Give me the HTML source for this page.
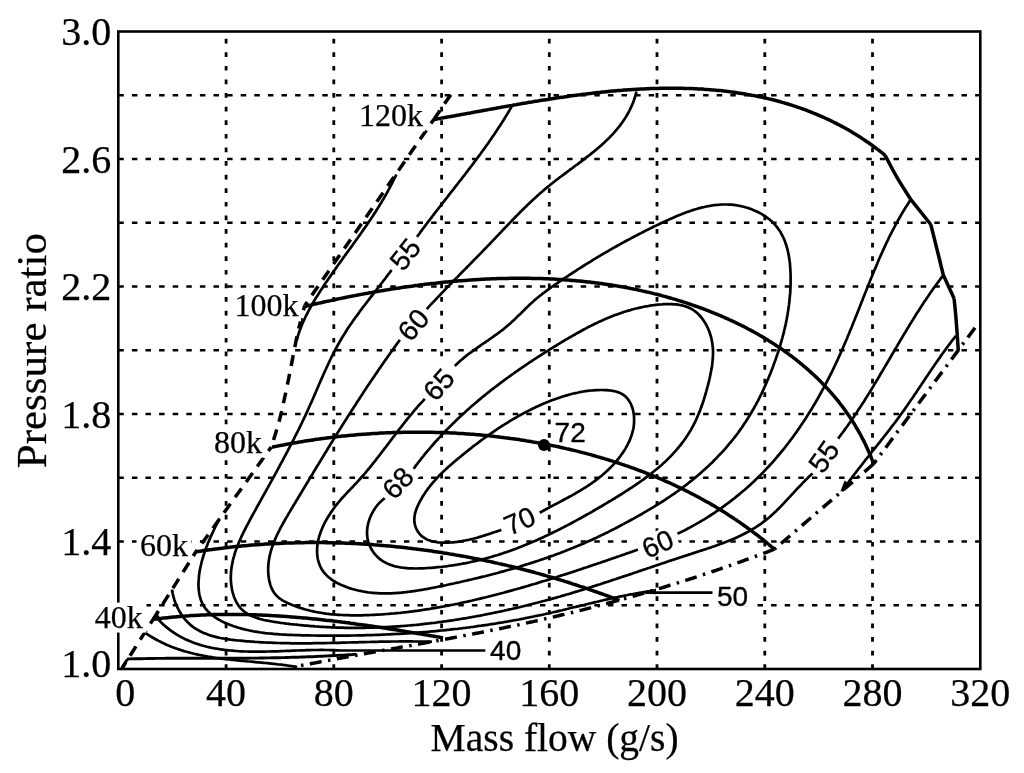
<!DOCTYPE html>
<html><head><meta charset="utf-8"><title>Compressor map</title>
<style>html,body{margin:0;padding:0;background:#fff}svg{display:block}</style></head>
<body>
<svg width="1024" height="773" viewBox="0 0 1024 773">
<rect width="1024" height="773" fill="#fff"/>
<path d="M226.1,669.0V31.5M333.8,669.0V31.5M441.6,669.0V31.5M549.3,669.0V31.5M657.0,669.0V31.5M764.8,669.0V31.5M872.5,669.0V31.5" stroke="#000" stroke-width="2.8" stroke-dasharray="4.7 8.9" fill="none"/>
<path d="M118.3,605.2H980.3M118.3,541.5H980.3M118.3,477.8H980.3M118.3,414.0H980.3M118.3,350.2H980.3M118.3,286.5H980.3M118.3,222.7H980.3M118.3,159.0H980.3M118.3,95.2H980.3" stroke="#000" stroke-width="2.6" stroke-dasharray="5.5 8.1" fill="none"/>
<path d="M158.8,620.0 160.3,621.5 161.8,623.0 163.3,624.4 164.8,625.8 166.4,627.1 168.0,628.4 169.5,629.6 171.2,630.8 172.8,632.0 174.5,633.1 176.1,634.1 177.8,635.2 179.5,636.1 181.2,637.1 183.0,638.0 184.7,638.9 186.5,639.7 188.3,640.5 190.1,641.3 191.9,642.0 193.7,642.7 195.6,643.4 197.4,644.0 199.3,644.6 201.2,645.2 203.1,645.7 205.0,646.2 206.9,646.7 208.8,647.1 210.7,647.6 212.7,648.0 214.6,648.4 216.6,648.7 218.6,649.0 220.5,649.3 222.5,649.6 224.5,649.9 226.5,650.1 228.5,650.3 230.5,650.5 232.6,650.7 234.6,650.9 236.6,651.0 238.6,651.2 240.7,651.3 242.7,651.4 244.8,651.5 246.8,651.5 248.9,651.6 250.9,651.6 253.0,651.6 255.0,651.7 257.1,651.7 259.2,651.7 261.2,651.6 263.3,651.6 265.4,651.6 267.5,651.5 269.5,651.5 271.6,651.4 273.7,651.4 275.7,651.3 277.8,651.3 279.9,651.2 282.0,651.1 284.0,651.0 286.1,650.9 288.2,650.9 290.2,650.8 292.3,650.7 294.3,650.6 296.4,650.5 298.4,650.5 300.5,650.4 302.5,650.3 304.5,650.3 306.6,650.2 308.6,650.1 310.6,650.1 312.6,650.0 314.6,650.0 316.6,650.0 318.6,650.0 320.6,649.9 322.6,649.9 324.6,650.0 326.5,650.0 328.5,650.0 330.4,650.1 332.3,650.1 334.3,650.2 336.2,650.3 338.1,650.4 340.0,650.5 L485.4,650.5" stroke="#000" stroke-width="2.7" fill="none" stroke-linejoin="round" />
<path d="M636.5,91.5 636.0,93.5 635.4,95.5 634.8,97.5 634.2,99.5 633.5,101.4 632.8,103.3 632.0,105.1 631.2,106.9 630.3,108.8 629.5,110.5 628.6,112.3 627.6,114.0 626.6,115.7 625.6,117.4 624.6,119.0 623.5,120.6 622.4,122.2 621.2,123.8 620.1,125.4 618.9,126.9 617.6,128.4 616.4,130.0 615.1,131.4 613.8,132.9 612.5,134.3 611.1,135.8 609.8,137.2 608.4,138.6 607.0,140.0 605.5,141.3 604.1,142.7 602.6,144.0 601.1,145.4 599.6,146.7 598.1,148.0 596.6,149.3 595.0,150.6 593.5,151.9 591.9,153.1 590.3,154.4 588.7,155.7 587.1,156.9 585.5,158.1 583.9,159.4 582.3,160.6 580.7,161.8 579.0,163.1 577.4,164.3 575.7,165.5 574.1,166.7 572.5,168.0 570.8,169.2 569.2,170.4 567.5,171.6 565.9,172.8 564.2,174.1 562.6,175.3 561.0,176.5 559.3,177.7 557.7,179.0 556.1,180.2 554.5,181.5 552.9,182.7 551.3,184.0 549.7,185.3 548.1,186.5 546.6,187.8 545.0,189.1 543.5,190.4 542.0,191.8 540.4,193.1 538.9,194.4 537.4,195.7 536.0,197.1 534.5,198.4 533.0,199.8 531.5,201.2 530.1,202.5 528.6,203.9 527.2,205.3 525.8,206.7 524.3,208.1 522.9,209.5 521.5,210.9 520.1,212.3 518.7,213.7 517.3,215.1 515.9,216.5 514.5,218.0 513.1,219.4 511.7,220.8 510.3,222.3 509.0,223.7 507.6,225.1 506.2,226.6 504.8,228.0 503.4,229.5 502.1,230.9 500.7,232.4 499.3,233.8 497.9,235.3 496.6,236.7 495.2,238.2 493.8,239.6 492.4,241.1 491.0,242.5 489.7,244.0 488.3,245.4 486.9,246.8 485.5,248.3 484.1,249.7 482.7,251.2 481.3,252.6 479.9,254.1 478.5,255.5 477.1,256.9 475.7,258.4 474.3,259.8 472.8,261.3 471.4,262.7 470.0,264.1 468.6,265.6 467.2,267.0 465.8,268.5 464.4,269.9 463.0,271.3 461.5,272.8 460.1,274.2 458.7,275.7 457.3,277.1 455.9,278.5 454.5,280.0 453.1,281.4 451.7,282.9 450.2,284.3 448.8,285.8 447.4,287.2 446.0,288.7 444.6,290.1 443.2,291.6 441.8,293.0 440.5,294.5 439.1,295.9 437.7,297.4 436.3,298.8 434.9,300.3 433.5,301.8 432.2,303.2 430.8,304.7 429.4,306.2 428.1,307.6 426.7,309.1" stroke="#000" stroke-width="2.7" fill="none" stroke-linejoin="round" />
<path d="M399.9,339.8 398.7,341.5 397.5,343.1 396.3,344.8 395.1,346.4 393.9,348.1 392.7,349.7 391.5,351.4 390.4,353.0 389.2,354.7 388.0,356.3 386.9,358.0 385.7,359.6 384.5,361.3 383.4,362.9 382.2,364.6 381.1,366.2 380.0,367.9 378.8,369.5 377.7,371.2 376.6,372.9 375.4,374.5 374.3,376.2 373.2,377.8 372.1,379.5 371.0,381.1 369.8,382.8 368.7,384.4 367.6,386.1 366.5,387.8 365.4,389.4 364.3,391.1 363.2,392.7 362.2,394.4 361.1,396.1 360.0,397.7 358.9,399.4 357.8,401.0 356.7,402.7 355.7,404.4 354.6,406.0 353.5,407.7 352.4,409.4 351.4,411.0 350.3,412.7 349.2,414.4 348.2,416.0 347.1,417.7 346.1,419.4 345.0,421.1 343.9,422.7 342.9,424.4 341.8,426.1 340.8,427.8 339.7,429.5 338.7,431.1 337.6,432.8 336.6,434.5 335.5,436.2 334.5,437.9 333.5,439.6 332.4,441.3 331.4,442.9 330.3,444.6 329.3,446.3 328.2,448.0 327.2,449.7 326.2,451.4 325.1,453.1 324.1,454.8 323.1,456.5 322.0,458.2 321.0,459.9 319.9,461.7 318.9,463.4 317.9,465.1 316.8,466.8 315.8,468.5 314.7,470.2 313.7,471.9 312.7,473.7 311.6,475.4 310.6,477.1 309.5,478.8 308.5,480.6 307.5,482.3 306.4,484.0 305.4,485.8 304.3,487.5 303.3,489.3 302.2,491.0 301.2,492.7 300.1,494.5 299.1,496.2 298.0,498.0 297.0,499.8 295.9,501.5 294.9,503.3 293.8,505.0 292.7,506.8 291.7,508.6 290.6,510.3 289.6,512.1 288.5,513.9 287.5,515.7 286.4,517.4 285.4,519.2 284.4,521.0 283.3,522.8 282.4,524.6 281.4,526.4 280.4,528.2 279.5,530.0 278.6,531.8 277.7,533.6 276.8,535.5 276.0,537.3 275.2,539.1 274.4,541.0 273.7,542.8 273.0,544.7 272.3,546.5 271.7,548.4 271.1,550.3 270.6,552.1 270.1,554.0 269.7,555.9 269.3,557.8 269.0,559.7 268.7,561.6 268.5,563.6 268.3,565.5 268.2,567.4 268.2,569.4 268.2,571.3 268.3,573.3 268.5,575.3 268.7,577.2 269.0,579.2 269.4,581.2 269.9,583.2 270.4,585.1 271.1,587.0 271.9,588.8 272.8,590.5 273.8,592.2 274.9,593.8 276.1,595.2 277.5,596.6 278.9,597.8 280.5,599.0 282.1,600.1 283.8,601.1 285.6,602.0 287.4,602.9 289.3,603.7 291.1,604.5 293.0,605.3 294.9,606.0 296.8,606.7 298.7,607.4 300.6,608.0 302.6,608.6 304.5,609.2 306.4,609.7 308.4,610.2 310.3,610.7 312.3,611.1 314.2,611.6 316.2,612.0 318.2,612.3 320.2,612.7 322.1,613.0 324.1,613.3 326.1,613.6 328.1,613.8 330.1,614.1 332.1,614.3 334.1,614.5 336.1,614.6 338.2,614.8 340.2,614.9 342.2,615.0 344.2,615.1 346.2,615.2 348.3,615.2 350.3,615.3 352.3,615.3 354.3,615.3 356.3,615.3 358.4,615.3 360.4,615.3 362.4,615.3 364.4,615.2 366.5,615.2 368.5,615.1 370.5,615.0 372.5,614.9 374.5,614.8 376.5,614.7 378.6,614.6 380.6,614.5 382.6,614.3 384.6,614.2 386.6,614.0 388.6,613.9 390.6,613.7 392.6,613.5 394.6,613.4 396.6,613.2 398.6,613.0 400.6,612.8 402.5,612.5 404.5,612.3 406.5,612.1 408.5,611.9 410.5,611.6 412.5,611.4 414.5,611.1 416.4,610.8 418.4,610.6 420.4,610.3 422.4,610.0 424.3,609.7 426.3,609.4 428.3,609.1 430.3,608.8 432.2,608.4 434.2,608.1 436.2,607.8 438.1,607.4 440.1,607.1 442.1,606.7 444.0,606.4 446.0,606.0 447.9,605.6 449.9,605.2 451.9,604.8 453.8,604.5 455.8,604.1 457.7,603.7 459.7,603.2 461.6,602.8 463.6,602.4 465.5,602.0 467.5,601.6 469.4,601.1 471.4,600.7 473.3,600.2 475.3,599.8 477.2,599.3 479.2,598.9 481.1,598.4 483.1,597.9 485.0,597.5 486.9,597.0 488.9,596.5 490.8,596.0 492.8,595.5 494.7,595.0 496.6,594.5 498.6,594.0 500.5,593.5 502.5,593.0 504.4,592.5 506.3,591.9 508.3,591.4 510.2,590.9 512.1,590.4 514.1,589.8 516.0,589.3 517.9,588.7 519.8,588.2 521.8,587.6 523.7,587.1 525.6,586.5 527.6,586.0 529.5,585.4 531.4,584.8 533.3,584.2 535.3,583.7 537.2,583.1 539.1,582.5 541.0,581.9 542.9,581.3 544.9,580.8 546.8,580.2 548.7,579.6 550.6,579.0 552.5,578.4 554.4,577.8 556.4,577.2 558.3,576.5 560.2,575.9 562.1,575.3 564.0,574.7 565.9,574.1 567.8,573.5 569.7,572.9 571.7,572.2 573.6,571.6 575.5,571.0 577.4,570.3 579.3,569.7 581.2,569.1 583.1,568.4 585.0,567.8 586.9,567.2 588.8,566.5 590.7,565.9 592.6,565.3 594.5,564.6 596.4,564.0 598.3,563.3 600.2,562.7 602.1,562.0 604.0,561.4 605.9,560.7 607.8,560.1 609.7,559.4 611.6,558.8 613.5,558.1 615.4,557.5 617.2,556.8 619.1,556.2 621.0,555.5 622.9,554.9 624.8,554.2 626.7,553.5 628.6,552.9 630.5,552.2 632.3,551.6 634.2,550.9 636.1,550.3 638.0,549.6" stroke="#000" stroke-width="2.7" fill="none" stroke-linejoin="round" />
<path d="M677.5,533.8 679.3,532.9 681.2,532.0 683.0,531.1 684.8,530.2 686.6,529.3 688.4,528.3 690.2,527.4 691.9,526.4 693.7,525.4 695.5,524.4 697.2,523.4 699.0,522.4 700.7,521.4 702.4,520.4 704.2,519.3 705.9,518.3 707.6,517.2 709.3,516.1 711.0,515.0 712.7,513.9 714.4,512.8 716.0,511.7 717.7,510.6 719.3,509.4 721.0,508.3 722.6,507.1 724.3,505.9 725.9,504.7 727.5,503.5 729.1,502.3 730.7,501.1 732.3,499.9 733.9,498.7 735.4,497.4 737.0,496.1 738.5,494.9 740.1,493.6 741.6,492.3 743.1,491.0 744.7,489.7 746.2,488.4 747.7,487.1 749.2,485.7 750.6,484.4 752.1,483.0 753.6,481.7 755.0,480.3 756.5,478.9 757.9,477.5 759.3,476.1 760.8,474.7 762.2,473.3 763.6,471.8 765.0,470.4 766.3,468.9 767.7,467.5 769.1,466.0 770.4,464.5 771.8,463.1 773.1,461.6 774.4,460.1 775.7,458.6 777.0,457.0 778.3,455.5 779.6,454.0 780.9,452.4 782.1,450.9 783.4,449.3 784.7,447.8 785.9,446.2 787.1,444.6 788.4,443.0 789.6,441.4 790.8,439.8 792.0,438.2 793.2,436.6 794.3,435.0 795.5,433.4 796.7,431.7 797.8,430.1 799.0,428.4 800.1,426.8 801.2,425.1 802.3,423.4 803.5,421.8 804.6,420.1 805.7,418.4 806.7,416.7 807.8,415.0 808.9,413.3 810.0,411.6 811.0,409.9 812.1,408.2 813.1,406.4 814.1,404.7 815.2,403.0 816.2,401.2 817.2,399.5 818.2,397.7 819.2,396.0 820.2,394.2 821.1,392.5 822.1,390.7 823.1,388.9 824.0,387.2 825.0,385.4 825.9,383.6 826.8,381.8 827.8,380.0 828.7,378.2 829.6,376.4 830.5,374.6 831.4,372.8 832.3,371.0 833.2,369.2 834.0,367.4 834.9,365.5 835.8,363.7 836.6,361.9 837.5,360.1 838.3,358.2 839.1,356.4 840.0,354.6 840.8,352.7 841.6,350.9 842.4,349.0 843.2,347.2 844.0,345.3 844.8,343.5 845.6,341.7 846.4,339.8 847.2,337.9 847.9,336.1 848.7,334.2 849.5,332.4 850.2,330.5 851.0,328.7 851.8,326.8 852.5,324.9 853.3,323.1 854.0,321.2 854.8,319.3 855.5,317.5 856.3,315.6 857.0,313.7 857.7,311.9 858.5,310.0 859.2,308.1 860.0,306.3 860.7,304.4 861.4,302.5 862.2,300.7 862.9,298.8 863.6,296.9 864.4,295.1 865.1,293.2 865.9,291.3 866.6,289.5 867.3,287.6 868.1,285.8 868.8,283.9 869.6,282.0 870.3,280.2 871.1,278.3 871.9,276.5 872.6,274.6 873.4,272.8 874.1,270.9 874.9,269.1 875.7,267.2 876.5,265.4 877.3,263.5 878.0,261.7 878.8,259.8 879.6,258.0 880.4,256.2 881.2,254.4 882.1,252.5 882.9,250.7 883.7,248.9 884.5,247.1 885.4,245.2 886.2,243.4 887.1,241.6 888.0,239.8 888.8,238.0 889.7,236.2 890.6,234.4 891.5,232.6 892.4,230.9 893.3,229.1 894.3,227.3 895.2,225.5 896.1,223.8 897.1,222.0 898.1,220.3 899.1,218.5 900.1,216.8 901.1,215.0 902.1,213.3 903.1,211.5 904.2,209.8 905.2,208.1 906.3,206.4 907.4,204.7 908.5,203.0 909.6,201.3 910.7,199.6" stroke="#000" stroke-width="2.7" fill="none" stroke-linejoin="round" />
<path d="M512.3,105.4 511.3,107.1 510.3,108.9 509.3,110.6 508.3,112.3 507.2,114.1 506.2,115.8 505.1,117.5 504.1,119.2 503.0,120.9 502.0,122.6 500.9,124.3 499.8,126.0 498.7,127.6 497.6,129.3 496.5,131.0 495.4,132.6 494.3,134.3 493.1,136.0 492.0,137.6 490.9,139.3 489.7,140.9 488.6,142.6 487.4,144.2 486.3,145.8 485.1,147.5 483.9,149.1 482.7,150.7 481.6,152.3 480.4,154.0 479.2,155.6 478.0,157.2 476.8,158.8 475.6,160.4 474.4,162.0 473.2,163.6 472.0,165.2 470.8,166.8 469.6,168.4 468.3,170.0 467.1,171.6 465.9,173.2 464.7,174.8 463.4,176.4 462.2,178.0 461.0,179.6 459.7,181.1 458.5,182.7 457.3,184.3 456.0,185.9 454.8,187.5 453.6,189.1 452.3,190.6 451.1,192.2 449.8,193.8 448.6,195.4 447.4,197.0 446.1,198.6 444.9,200.1 443.7,201.7 442.4,203.3 441.2,204.9 440.0,206.5 438.7,208.1 437.5,209.6 436.3,211.2 435.0,212.8 433.8,214.4 432.6,216.0 431.4,217.6 430.2,219.2 428.9,220.8 427.7,222.4 426.5,224.0 425.3,225.6 424.1,227.2 422.9,228.8 421.7,230.4 420.5,232.0 419.4,233.7 418.2,235.3 417.0,236.9" stroke="#000" stroke-width="2.7" fill="none" stroke-linejoin="round" />
<path d="M391.6,270.0 390.4,271.6 389.2,273.2 388.0,274.8 386.8,276.4 385.6,278.0 384.4,279.6 383.1,281.2 381.9,282.8 380.7,284.4 379.5,286.0 378.2,287.6 377.0,289.1 375.8,290.7 374.5,292.3 373.3,293.9 372.1,295.5 370.8,297.0 369.6,298.6 368.4,300.2 367.2,301.8 366.0,303.4 364.7,305.0 363.5,306.5 362.3,308.1 361.1,309.7 359.9,311.3 358.8,312.9 357.6,314.6 356.4,316.2 355.2,317.8 354.1,319.4 352.9,321.0 351.8,322.7 350.7,324.3 349.5,326.0 348.4,327.6 347.3,329.3 346.2,331.0 345.2,332.7 344.1,334.4 343.1,336.1 342.0,337.8 341.0,339.5 340.0,341.2 339.0,343.0 338.0,344.7 337.1,346.5 336.1,348.2 335.2,350.0 334.2,351.8 333.3,353.6 332.4,355.4 331.5,357.2 330.6,359.0 329.7,360.8 328.9,362.7 328.0,364.5 327.2,366.3 326.3,368.2 325.5,370.0 324.6,371.8 323.8,373.7 323.0,375.5 322.2,377.4 321.3,379.3 320.5,381.1 319.7,383.0 318.9,384.8 318.1,386.7 317.3,388.5 316.5,390.4 315.7,392.3 314.9,394.1 314.1,396.0 313.3,397.8 312.5,399.7 311.7,401.5 310.9,403.3 310.0,405.2 309.2,407.0 308.4,408.8 307.6,410.6 306.7,412.5 305.9,414.3 305.1,416.1 304.2,417.9 303.4,419.7 302.5,421.5 301.7,423.3 300.8,425.0 299.9,426.8 299.1,428.6 298.2,430.4 297.3,432.1 296.4,433.9 295.5,435.7 294.6,437.4 293.8,439.2 292.9,441.0 292.0,442.7 291.0,444.5 290.1,446.2 289.2,448.0 288.3,449.7 287.4,451.5 286.5,453.2 285.6,454.9 284.6,456.7 283.7,458.4 282.8,460.2 281.8,461.9 280.9,463.6 279.9,465.4 279.0,467.1 278.1,468.9 277.1,470.6 276.2,472.3 275.2,474.1 274.3,475.8 273.3,477.6 272.3,479.3 271.4,481.1 270.4,482.8 269.4,484.6 268.5,486.3 267.5,488.1 266.5,489.8 265.6,491.6 264.6,493.3 263.6,495.1 262.6,496.9 261.7,498.6 260.7,500.4 259.7,502.2 258.7,504.0 257.7,505.7 256.7,507.5 255.8,509.3 254.8,511.1 253.8,512.9 252.8,514.7 251.8,516.5 250.8,518.3 249.8,520.1 248.9,522.0 247.9,523.8 246.9,525.6 246.0,527.5 245.0,529.3 244.1,531.2 243.2,533.0 242.3,534.9 241.4,536.7 240.6,538.6 239.7,540.5 238.9,542.3 238.2,544.2 237.4,546.1 236.7,548.0 236.0,549.9 235.3,551.8 234.7,553.7 234.2,555.6 233.6,557.6 233.1,559.5 232.7,561.4 232.3,563.4 231.9,565.3 231.6,567.3 231.3,569.2 231.1,571.2 231.0,573.2 230.9,575.1 230.8,577.1 230.8,579.1 230.9,581.1 231.1,583.1 231.3,585.1 231.6,587.1 231.9,589.1 232.3,591.0 232.8,592.9 233.4,594.8 234.0,596.7 234.7,598.5 235.5,600.3 236.3,602.0 237.3,603.6 238.3,605.2 239.4,606.7 240.5,608.1 241.8,609.4 243.1,610.6 244.5,611.8 246.0,612.9 247.6,613.9 249.2,614.8 250.9,615.6 252.6,616.4 254.4,617.1 256.2,617.8 258.1,618.4 260.0,619.0 262.0,619.5 264.0,620.0 266.0,620.4 268.0,620.8 270.1,621.2 272.1,621.5 274.2,621.9 276.3,622.2 278.3,622.5 280.4,622.8 282.5,623.0 284.6,623.3 286.6,623.6 288.7,623.8 290.7,624.1 292.8,624.3 294.8,624.5 296.8,624.7 298.9,625.0 300.9,625.2 302.9,625.4 304.9,625.6 307.0,625.7 309.0,625.9 311.0,626.1 313.0,626.2 315.0,626.4 317.0,626.5 319.0,626.7 321.0,626.8 323.0,626.9 325.0,627.0 327.0,627.1 329.0,627.2 331.0,627.3 333.0,627.4 335.0,627.5 337.0,627.6 339.0,627.6 341.0,627.7 343.0,627.7 345.0,627.8 347.0,627.8 349.0,627.8 351.0,627.8 353.0,627.9 355.0,627.9 357.0,627.9 359.0,627.8 361.0,627.8 363.0,627.8 365.0,627.8 367.0,627.7 369.0,627.7 371.0,627.7 373.0,627.6 375.0,627.5 377.0,627.5 379.0,627.4 381.0,627.3 383.0,627.2 385.0,627.1 387.0,627.0 389.0,626.9 390.9,626.8 392.9,626.7 394.9,626.6 396.9,626.4 398.9,626.3 400.9,626.1 402.9,626.0 404.9,625.8 406.9,625.7 408.9,625.5 410.9,625.3 412.9,625.1 414.9,625.0 416.8,624.8 418.8,624.6 420.8,624.4 422.8,624.1 424.8,623.9 426.8,623.7 428.8,623.5 430.8,623.2 432.8,623.0 434.7,622.8 436.7,622.5 438.7,622.2 440.7,622.0 442.7,621.7 444.7,621.4 446.6,621.2 448.6,620.9 450.6,620.6 452.6,620.3 454.6,620.0 456.5,619.7 458.5,619.4 460.5,619.0 462.5,618.7 464.4,618.4 466.4,618.1 468.4,617.7 470.4,617.4 472.3,617.0 474.3,616.7 476.3,616.3 478.3,615.9 480.2,615.6 482.2,615.2 484.2,614.8 486.1,614.4 488.1,614.0 490.1,613.6 492.0,613.2 494.0,612.8 496.0,612.4 497.9,612.0 499.9,611.6 501.8,611.2 503.8,610.8 505.7,610.3 507.7,609.9 509.7,609.4 511.6,609.0 513.6,608.5 515.5,608.1 517.5,607.6 519.4,607.2 521.4,606.7 523.3,606.2 525.3,605.7 527.2,605.3 529.2,604.8 531.1,604.3 533.0,603.8 535.0,603.3 536.9,602.8 538.9,602.3 540.8,601.8 542.7,601.3 544.7,600.8 546.6,600.2 548.5,599.7 550.5,599.2 552.4,598.6 554.3,598.1 556.3,597.6 558.2,597.0 560.1,596.5 562.0,595.9 564.0,595.4 565.9,594.8 567.8,594.2 569.7,593.7 571.6,593.1 573.5,592.5 575.5,591.9 577.4,591.4 579.3,590.8 581.2,590.2 583.1,589.6 585.0,589.0 586.9,588.4 588.8,587.8 590.7,587.2 592.6,586.6 594.5,586.0 596.4,585.4 598.3,584.8 600.2,584.2 602.1,583.5 604.0,582.9 605.9,582.3 607.8,581.7 609.7,581.1 611.6,580.4 613.5,579.8 615.4,579.2 617.3,578.5 619.2,577.9 621.1,577.3 623.0,576.6 624.9,576.0 626.8,575.4 628.7,574.7 630.6,574.1 632.5,573.5 634.4,572.8 636.3,572.2 638.2,571.5 640.1,570.9 642.0,570.3 643.9,569.6 645.8,569.0 647.7,568.3 649.6,567.7 651.5,567.0 653.4,566.4 655.3,565.8 657.2,565.1 659.1,564.5 661.0,563.8 662.9,563.2 664.8,562.6 666.7,561.9 668.6,561.3 670.5,560.6 672.4,560.0 674.3,559.4 676.2,558.7 678.1,558.1 680.0,557.5 681.9,556.9 683.8,556.2 685.8,555.6 687.7,555.0 689.6,554.4 691.5,553.7 693.4,553.1 695.4,552.5 697.3,551.9 699.2,551.3 701.1,550.6 703.0,550.0 705.0,549.4 706.9,548.8 708.8,548.1 710.7,547.5 712.6,546.8 714.5,546.2 716.4,545.5 718.3,544.8 720.2,544.1 722.0,543.4 723.9,542.7 725.8,542.0 727.6,541.3 729.5,540.5 731.3,539.8 733.2,539.0 735.0,538.2 736.8,537.4 738.6,536.6 740.4,535.7 742.2,534.8 743.9,534.0 745.7,533.0 747.4,532.1 749.2,531.2 750.9,530.2 752.6,529.2 754.3,528.2 756.0,527.1 757.6,526.0 759.3,524.9 760.9,523.8 762.5,522.6 764.1,521.4 765.7,520.2 767.2,519.0 768.8,517.7 770.3,516.4 771.8,515.0 773.3,513.7 774.8,512.3 776.3,510.9 777.7,509.5 779.2,508.0 780.6,506.6 782.0,505.1 783.4,503.7 784.8,502.2 786.2,500.7 787.6,499.2 789.0,497.7 790.4,496.2 791.8,494.7 793.2,493.2 794.6,491.7 795.9,490.2 797.3,488.7 798.7,487.2 800.1,485.8 801.5,484.3 802.8,482.9 804.2,481.5 805.6,480.0 807.0,478.7 808.4,477.3 809.8,475.9 811.3,474.6 812.7,473.3" stroke="#000" stroke-width="2.7" fill="none" stroke-linejoin="round" />
<path d="M838.1,438.6 839.3,437.0 840.5,435.4 841.7,433.8 842.9,432.2 844.1,430.6 845.3,428.9 846.5,427.3 847.7,425.7 848.8,424.0 850.0,422.4 851.1,420.8 852.2,419.1 853.4,417.5 854.5,415.8 855.6,414.1 856.7,412.5 857.8,410.8 858.9,409.1 860.0,407.4 861.1,405.8 862.2,404.1 863.3,402.4 864.4,400.7 865.4,399.0 866.5,397.3 867.6,395.6 868.6,393.9 869.7,392.2 870.7,390.5 871.8,388.8 872.8,387.1 873.8,385.4 874.9,383.6 875.9,381.9 876.9,380.2 878.0,378.5 879.0,376.8 880.0,375.0 881.0,373.3 882.1,371.6 883.1,369.9 884.1,368.1 885.1,366.4 886.1,364.7 887.1,363.0 888.2,361.2 889.2,359.5 890.2,357.8 891.2,356.0 892.2,354.3 893.2,352.6 894.2,350.9 895.2,349.1 896.3,347.4 897.3,345.7 898.3,343.9 899.3,342.2 900.3,340.5 901.4,338.8 902.4,337.0 903.4,335.3 904.4,333.6 905.5,331.9 906.5,330.2 907.5,328.4 908.6,326.7 909.6,325.0 910.7,323.3 911.7,321.6 912.8,319.9 913.8,318.2 914.9,316.5 915.9,314.8 917.0,313.1 918.1,311.4 919.2,309.7 920.3,308.0 921.3,306.4 922.4,304.7 923.5,303.0 924.6,301.3 925.8,299.7 926.9,298.0 928.0,296.4 929.1,294.7 930.3,293.0 931.4,291.4 932.6,289.8 933.7,288.1 934.9,286.5 936.1,284.9 937.3,283.2 938.5,281.6 939.7,280.0 940.9,278.4 942.1,276.8 943.3,275.2" stroke="#000" stroke-width="2.7" fill="none" stroke-linejoin="round" />
<path d="M396.3,174.5 395.5,176.3 394.6,178.1 393.7,180.0 392.8,181.8 391.9,183.5 391.0,185.3 390.0,187.1 389.1,188.9 388.1,190.7 387.2,192.4 386.2,194.2 385.2,195.9 384.2,197.7 383.2,199.4 382.1,201.1 381.1,202.9 380.0,204.6 379.0,206.3 377.9,208.0 376.8,209.7 375.8,211.4 374.7,213.1 373.6,214.8 372.5,216.5 371.3,218.2 370.2,219.9 369.1,221.5 367.9,223.2 366.8,224.9 365.7,226.5 364.5,228.2 363.3,229.9 362.2,231.5 361.0,233.2 359.9,234.9 358.7,236.5 357.5,238.2 356.3,239.8 355.1,241.5 354.0,243.1 352.8,244.8 351.6,246.4 350.4,248.1 349.2,249.7 348.0,251.4 346.8,253.0 345.6,254.6 344.4,256.3 343.2,257.9 342.1,259.6 340.9,261.2 339.7,262.9 338.5,264.5 337.3,266.2 336.1,267.9 335.0,269.5 333.8,271.2 332.6,272.8 331.5,274.5 330.3,276.2 329.2,277.8 328.0,279.5 326.9,281.2 325.7,282.8 324.6,284.5 323.5,286.2 322.4,287.9 321.3,289.6 320.1,291.3 319.1,293.0 318.0,294.7 316.9,296.4 315.8,298.1 314.8,299.8 313.8,301.6 312.7,303.3 311.7,305.0 310.8,306.8 309.8,308.5 308.8,310.3 307.9,312.1 307.0,313.9 306.1,315.7 305.2,317.5 304.4,319.3 303.5,321.1 302.7,322.9 302.0,324.8 301.2,326.6 300.5,328.5 299.8,330.4 299.1,332.3 298.5,334.2 297.9,336.1 297.3,338.1 296.8,340.0" stroke="#000" stroke-width="2.7" fill="none" stroke-linejoin="round" />
<path d="M219.5,518.4 218.7,520.1 217.8,521.8 217.0,523.5 216.2,525.2 215.3,527.0 214.5,528.7 213.6,530.5 212.8,532.3 211.9,534.1 211.1,535.9 210.3,537.7 209.5,539.6 208.7,541.4 207.9,543.3 207.2,545.2 206.4,547.1 205.7,549.0 205.0,551.0 204.3,553.0 203.7,555.0 203.1,557.0 202.5,559.0 201.9,561.0 201.4,563.1 200.9,565.2 200.4,567.3 200.0,569.4 199.6,571.5 199.3,573.6 199.0,575.7 198.8,577.8 198.7,579.9 198.5,582.0 198.5,584.0 198.5,586.1 198.6,588.1 198.8,590.1 199.0,592.0 199.3,594.0 199.7,595.8 200.2,597.7 200.7,599.5 201.4,601.2 202.1,602.9 202.9,604.5 203.8,606.1 204.8,607.6 205.9,609.0 207.1,610.4 208.4,611.8 209.7,613.1 211.1,614.3 212.5,615.5 214.1,616.6 215.6,617.7 217.3,618.8 219.0,619.7 220.7,620.7 222.5,621.6 224.3,622.5 226.1,623.3 228.0,624.1 229.9,624.8 231.8,625.5 233.7,626.2 235.7,626.8 237.6,627.5 239.6,628.0 241.6,628.6 243.5,629.1 245.5,629.6 247.5,630.0 249.5,630.5 251.4,630.9 253.4,631.3 255.4,631.6 257.4,631.9 259.4,632.3 261.4,632.5 263.4,632.8 265.4,633.1 267.4,633.3 269.4,633.5 271.4,633.7 273.4,633.9 275.4,634.1 277.4,634.2 279.4,634.3 281.4,634.5 283.4,634.6 285.4,634.7 287.5,634.8 289.5,634.9 291.5,634.9 293.5,635.0 295.5,635.1 297.5,635.1 299.5,635.2 301.6,635.3 303.6,635.3 305.6,635.3 307.6,635.4 309.6,635.4 311.6,635.5 313.6,635.5 315.6,635.5 317.6,635.6 319.7,635.6 321.7,635.6 323.7,635.6 325.7,635.6 327.7,635.7 329.7,635.7 331.7,635.7 333.7,635.7 335.7,635.7 337.7,635.7 339.8,635.7 341.8,635.6 343.8,635.6 345.8,635.6 347.8,635.6 349.8,635.6 351.8,635.5 353.8,635.5 355.8,635.5 357.8,635.4 359.8,635.4 361.8,635.3 363.8,635.3 365.8,635.2 367.8,635.2 369.8,635.1 371.9,635.1 373.9,635.0 375.9,634.9 377.9,634.8 379.9,634.8 381.9,634.7 383.9,634.6 385.9,634.5 387.9,634.4 389.9,634.3 391.9,634.2 393.9,634.1 395.9,634.0 397.9,633.9 399.9,633.8 401.9,633.7 403.9,633.6 405.9,633.4 407.9,633.3 409.9,633.2 411.8,633.0 413.8,632.9 415.8,632.7 417.8,632.6 419.8,632.4 421.8,632.3 423.8,632.1 425.8,632.0 427.8,631.8 429.8,631.6 431.8,631.4 433.8,631.3 435.8,631.1 437.8,630.9 439.7,630.7 441.7,630.5 443.7,630.3 445.7,630.1 447.7,629.9 449.7,629.7 451.7,629.4 453.7,629.2 455.7,629.0 457.6,628.8 459.6,628.5 461.6,628.3 463.6,628.0 465.6,627.8 467.6,627.5 469.5,627.3 471.5,627.0 473.5,626.8 475.5,626.5 477.5,626.2 479.4,625.9 481.4,625.7 483.4,625.4 485.4,625.1 487.4,624.8 489.3,624.5 491.3,624.2 493.3,623.9 495.3,623.6 497.2,623.2 499.2,622.9 501.2,622.6 503.2,622.3 505.1,621.9 507.1,621.6 509.1,621.2 511.1,620.9 513.0,620.5 515.0,620.2 517.0,619.8 518.9,619.5 520.9,619.1 522.9,618.7 524.8,618.3 526.8,617.9 528.8,617.5 530.7,617.1 532.7,616.7 534.7,616.3 536.6,615.9 538.6,615.5 540.6,615.1 542.5,614.7 544.5,614.2 546.4,613.8 548.4,613.4 550.4,612.9 552.3,612.5 554.3,612.0 556.2,611.6 558.2,611.1 560.1,610.6 562.1,610.2 564.1,609.7 566.0,609.2 568.0,608.8 569.9,608.3 571.9,607.8 573.8,607.3 575.8,606.9 577.7,606.4 579.7,605.9 581.6,605.4 583.6,605.0 585.6,604.5 587.5,604.0 589.5,603.5 591.4,603.1 593.4,602.6 595.3,602.1 597.3,601.7 599.2,601.2 601.2,600.7 603.2,600.3 605.1,599.8 607.1,599.4 609.0,598.9 611.0,598.5 612.9,598.1 614.9,597.6 616.9,597.2 618.8,596.8 620.8,596.4 622.8,596.0 624.7,595.6 626.7,595.2 628.6,594.8 630.6,594.4 632.6,594.1 634.6,593.7 636.5,593.3 638.5,593.0 640.5,592.7 642.4,592.3 644.4,592.0 646.4,591.7 648.4,591.4 650.3,591.1 652.3,590.9 654.3,590.6" stroke="#000" stroke-width="2.7" fill="none" stroke-linejoin="round" />
<path d="M956.0,335.7 954.8,337.3 953.5,338.8 952.3,340.4 951.1,342.0 949.9,343.6 948.7,345.2 947.5,346.8 946.3,348.4 945.1,350.1 943.9,351.7 942.8,353.3 941.6,354.9 940.4,356.6 939.3,358.2 938.1,359.9 937.0,361.5 935.8,363.2 934.7,364.8 933.6,366.5 932.5,368.1 931.3,369.8 930.2,371.5 929.1,373.1 928.0,374.8 926.8,376.5 925.7,378.1 924.6,379.8 923.5,381.5 922.4,383.1 921.3,384.8 920.1,386.5 919.0,388.2 917.9,389.8 916.8,391.5 915.7,393.2 914.5,394.8 913.4,396.5 912.3,398.2 911.1,399.8 910.0,401.5 908.9,403.1 907.7,404.8 906.6,406.4 905.4,408.1 904.3,409.7 903.1,411.4 901.9,413.0 900.7,414.6 899.6,416.3 898.4,417.9 897.2,419.5 896.0,421.1 894.8,422.7 893.6,424.3 892.3,425.9 891.1,427.5 889.9,429.1 888.7,430.7 887.4,432.3 886.2,433.9 884.9,435.5 883.7,437.0 882.5,438.6 881.2,440.2 880.0,441.8 878.7,443.4 877.5,444.9 876.2,446.5 875.0,448.1 873.7,449.7 872.4,451.2 871.2,452.8 869.9,454.4 868.7,456.0 867.4,457.6 866.2,459.1 864.9,460.7 863.7,462.3 862.5,463.9 861.2,465.5 860.0,467.1 858.7,468.6 857.5,470.2 856.3,471.8 855.1,473.4 853.8,475.0 852.6,476.6 851.4,478.3 850.2,479.9 849.0,481.5 847.8,483.1 846.7,484.7 845.5,486.4 844.3,488.0 843.2,489.7 842.0,491.3" stroke="#000" stroke-width="2.7" fill="none" stroke-linejoin="round" />
<path d="M172.0,589.5 172.3,591.6 172.7,593.6 173.2,595.7 173.7,597.7 174.3,599.7 175.0,601.7 175.7,603.6 176.5,605.5 177.4,607.4 178.3,609.2 179.3,611.0 180.3,612.8 181.4,614.5 182.5,616.1 183.8,617.8 185.0,619.3 186.3,620.8 187.7,622.2 189.1,623.6 190.5,624.9 192.0,626.1 193.6,627.3 195.1,628.3 196.8,629.4 198.4,630.3 200.1,631.2 201.8,632.1 203.6,632.9 205.4,633.6 207.2,634.3 209.0,635.0 210.9,635.6 212.8,636.1 214.7,636.6 216.6,637.1 218.6,637.6 220.6,638.0 222.5,638.3 224.5,638.7 226.5,639.0 228.6,639.3 230.6,639.6 232.6,639.8 234.7,640.1 236.7,640.3 238.8,640.5 240.8,640.7 242.8,640.9 244.9,641.1 246.9,641.3 248.9,641.4 251.0,641.6 253.0,641.7 255.0,641.9 257.1,642.0 259.1,642.1 261.1,642.3 263.2,642.4 265.2,642.5 267.2,642.6 269.2,642.7 271.3,642.7 273.3,642.8 275.3,642.9 277.3,643.0 279.3,643.0 281.3,643.1 283.4,643.1 285.4,643.2 287.4,643.2 289.4,643.2 291.4,643.3 293.4,643.3 295.4,643.3 297.5,643.3 299.5,643.3 301.5,643.3 303.5,643.3 305.5,643.3 307.5,643.3 309.5,643.3 311.5,643.3 313.5,643.2 315.5,643.2 317.5,643.2 319.5,643.2 321.5,643.1 323.5,643.1 325.5,643.1 327.5,643.0 329.5,643.0 331.6,642.9 333.6,642.9 335.6,642.8 337.6,642.8 339.6,642.8 341.6,642.7 343.6,642.6 345.6,642.6 347.6,642.5 349.6,642.5 351.6,642.4 353.6,642.4 355.6,642.3 357.6,642.3 359.6,642.2 361.6,642.2 363.6,642.1 365.6,642.1 367.6,642.0 369.6,642.0 371.6,641.9 373.6,641.9 375.6,641.8 377.6,641.8 379.6,641.7 381.6,641.7 383.6,641.7 385.6,641.6 387.6,641.6 389.6,641.6 391.7,641.5 393.7,641.5 395.7,641.5 397.7,641.5 399.7,641.4 401.7,641.4 403.7,641.4 405.7,641.4 407.7,641.4 409.8,641.4 411.8,641.4 413.8,641.5 415.8,641.5 417.8,641.5 419.9,641.5 421.9,641.6 423.9,641.6 425.9,641.6 427.9,641.7 430.0,641.7 432.0,641.8" stroke="#000" stroke-width="2.7" fill="none" stroke-linejoin="round" />
<path d="M144.8,632.5 146.5,633.7 148.2,634.8 149.9,635.9 151.7,637.0 153.4,638.0 155.2,639.0 157.0,640.0 158.7,640.9 160.5,641.8 162.3,642.7 164.1,643.6 165.9,644.4 167.8,645.2 169.6,645.9 171.4,646.7 173.3,647.4 175.1,648.1 177.0,648.7 178.9,649.4 180.7,650.0 182.6,650.6 184.5,651.2 186.4,651.7 188.3,652.2 190.2,652.7 192.2,653.2 194.1,653.7 196.0,654.1 197.9,654.6 199.9,655.0 201.8,655.4 203.8,655.8 205.7,656.1 207.7,656.5 209.7,656.8 211.6,657.1 213.6,657.5 215.6,657.8 217.6,658.0 219.5,658.3 221.5,658.6 223.5,658.8 225.5,659.1 227.5,659.3 229.5,659.5 231.5,659.8 233.5,660.0 235.5,660.2 237.5,660.4 239.5,660.6 241.5,660.8 243.5,661.0 245.5,661.2 247.5,661.4 249.5,661.5 251.5,661.7 253.5,661.9 255.5,662.1 257.5,662.3 259.5,662.4 261.5,662.6 263.6,662.8 265.6,663.0 267.5,663.2 269.5,663.4 271.5,663.6 273.5,663.8 275.5,664.0 277.5,664.3 279.5,664.5 281.5,664.7 283.5,665.0 285.4,665.2 287.4,665.5 289.4,665.8 291.3,666.1 293.3,666.4 295.2,666.7 297.2,667.0" stroke="#000" stroke-width="2.7" fill="none" stroke-linejoin="round" />
<path d="M539.7,512.8 541.5,511.8 543.3,510.8 545.1,509.8 546.9,508.8 548.7,507.8 550.5,506.9 552.3,505.9 554.1,504.9 555.9,504.0 557.6,503.1 559.4,502.1 561.2,501.2 562.9,500.3 564.7,499.3 566.4,498.4 568.1,497.5 569.9,496.5 571.6,495.6 573.3,494.6 575.0,493.7 576.7,492.7 578.4,491.7 580.1,490.7 581.7,489.7 583.4,488.7 585.0,487.7 586.7,486.6 588.3,485.5 589.9,484.5 591.5,483.4 593.1,482.2 594.7,481.1 596.3,479.9 597.9,478.7 599.4,477.5 601.0,476.2 602.5,474.9 604.0,473.6 605.6,472.3 607.0,470.9 608.5,469.5 610.0,468.1 611.4,466.6 612.9,465.1 614.3,463.6 615.7,462.0 617.0,460.4 618.3,458.8 619.6,457.2 620.8,455.5 622.0,453.8 623.2,452.1 624.3,450.4 625.4,448.6 626.4,446.8 627.4,445.1 628.3,443.2 629.2,441.4 630.0,439.6 630.7,437.7 631.4,435.8 632.0,433.9 632.5,432.0 633.0,430.1 633.4,428.2 633.7,426.2 633.9,424.3 634.1,422.3 634.1,420.3 634.1,418.4 634.0,416.4 633.8,414.4 633.5,412.5 633.1,410.5 632.6,408.6 632.0,406.8 631.3,405.0 630.5,403.3 629.6,401.7 628.6,400.1 627.5,398.7 626.3,397.3 625.0,396.1 623.5,394.9 621.9,394.0 620.3,393.1 618.5,392.4 616.6,391.8 614.7,391.3 612.7,390.9 610.7,390.5 608.6,390.3 606.5,390.1 604.3,390.1 602.2,390.0 600.1,390.0 597.9,390.1 595.8,390.2 593.7,390.3 591.6,390.5 589.6,390.7 587.5,390.9 585.5,391.2 583.4,391.5 581.4,391.9 579.4,392.2 577.4,392.7 575.5,393.1 573.5,393.5 571.5,394.0 569.6,394.5 567.7,395.1 565.7,395.6 563.8,396.2 561.9,396.8 560.0,397.5 558.1,398.1 556.2,398.8 554.4,399.4 552.5,400.1 550.6,400.8 548.8,401.6 546.9,402.3 545.1,403.1 543.3,403.8 541.4,404.6 539.6,405.4 537.8,406.3 536.0,407.1 534.2,407.9 532.4,408.8 530.6,409.7 528.8,410.6 527.1,411.5 525.3,412.4 523.5,413.3 521.8,414.3 520.0,415.2 518.3,416.2 516.6,417.2 514.8,418.2 513.1,419.2 511.4,420.2 509.7,421.2 508.0,422.3 506.3,423.3 504.6,424.4 502.9,425.4 501.2,426.5 499.6,427.6 497.9,428.7 496.2,429.8 494.6,430.9 492.9,432.1 491.3,433.2 489.6,434.3 488.0,435.5 486.4,436.7 484.7,437.8 483.1,439.0 481.5,440.2 479.9,441.4 478.3,442.6 476.7,443.8 475.1,445.0 473.5,446.2 471.9,447.4 470.4,448.7 468.8,449.9 467.2,451.2 465.7,452.4 464.1,453.7 462.6,454.9 461.0,456.2 459.5,457.5 457.9,458.7 456.4,460.0 454.9,461.3 453.3,462.6 451.8,463.9 450.3,465.2 448.8,466.5 447.4,467.8 445.9,469.2 444.4,470.5 443.0,471.9 441.6,473.3 440.1,474.7 438.7,476.1 437.4,477.6 436.0,479.1 434.7,480.6 433.3,482.1 432.0,483.6 430.7,485.2 429.5,486.8 428.2,488.4 427.0,490.1 425.8,491.7 424.7,493.5 423.5,495.2 422.4,497.0 421.4,498.8 420.3,500.7 419.3,502.6 418.4,504.5 417.5,506.4 416.7,508.3 416.0,510.3 415.4,512.2 414.9,514.2 414.6,516.1 414.4,518.0 414.3,519.9 414.4,521.8 414.7,523.6 415.1,525.4 415.7,527.1 416.3,528.8 417.2,530.4 418.1,532.0 419.2,533.4 420.4,534.8 421.7,536.1 423.2,537.2 424.7,538.2 426.4,539.2 428.1,539.9 430.0,540.6 431.9,541.2 433.8,541.6 435.9,542.0 438.0,542.3 440.1,542.5 442.2,542.6 444.3,542.6 446.5,542.6 448.6,542.6 450.7,542.5 452.8,542.3 454.9,542.1 457.0,541.9 459.1,541.6 461.1,541.3 463.1,540.9 465.1,540.5 467.1,540.1 469.1,539.7 471.1,539.2 473.1,538.7 475.0,538.2 477.0,537.7 478.9,537.1 480.8,536.6 482.8,536.0 484.7,535.4 486.6,534.8 488.4,534.2 490.3,533.6 492.2,532.9 494.0,532.3 495.9,531.7 497.7,531.1 499.6,530.5 501.4,529.9" stroke="#000" stroke-width="2.7" fill="none" stroke-linejoin="round" />
<path d="M413.6,468.7 414.8,467.1 416.0,465.4 417.3,463.8 418.5,462.2 419.8,460.6 421.0,459.0 422.3,457.4 423.6,455.8 424.8,454.2 426.1,452.7 427.4,451.1 428.7,449.6 430.0,448.1 431.3,446.5 432.7,445.0 434.0,443.5 435.3,442.0 436.7,440.5 438.0,439.0 439.4,437.6 440.7,436.1 442.1,434.6 443.5,433.2 444.8,431.7 446.2,430.3 447.6,428.9 449.0,427.5 450.4,426.1 451.8,424.7 453.2,423.3 454.7,421.9 456.1,420.5 457.5,419.1 459.0,417.8 460.4,416.4 461.9,415.0 463.3,413.7 464.8,412.4 466.3,411.0 467.7,409.7 469.2,408.4 470.7,407.1 472.2,405.8 473.7,404.5 475.2,403.2 476.7,401.9 478.2,400.6 479.7,399.4 481.3,398.1 482.8,396.8 484.3,395.6 485.9,394.3 487.4,393.1 489.0,391.9 490.5,390.6 492.1,389.4 493.7,388.2 495.2,387.0 496.8,385.8 498.4,384.6 500.0,383.4 501.6,382.2 503.1,381.0 504.7,379.8 506.3,378.7 508.0,377.5 509.6,376.3 511.2,375.2 512.8,374.0 514.4,372.9 516.0,371.7 517.7,370.6 519.3,369.4 521.0,368.3 522.6,367.2 524.3,366.1 525.9,364.9 527.6,363.8 529.2,362.7 530.9,361.6 532.6,360.5 534.2,359.4 535.9,358.3 537.6,357.2 539.3,356.1 540.9,355.1 542.6,354.0 544.3,352.9 546.0,351.8 547.7,350.8 549.4,349.7 551.1,348.6 552.8,347.6 554.6,346.5 556.3,345.5 558.0,344.4 559.7,343.4 561.4,342.3 563.2,341.3 564.9,340.2 566.6,339.2 568.4,338.2 570.1,337.2 571.9,336.2 573.6,335.2 575.4,334.2 577.1,333.2 578.9,332.2 580.7,331.2 582.4,330.3 584.2,329.3 586.0,328.4 587.8,327.4 589.5,326.5 591.3,325.6 593.1,324.7 594.9,323.8 596.8,323.0 598.6,322.1 600.4,321.3 602.2,320.5 604.0,319.6 605.9,318.8 607.7,318.1 609.6,317.3 611.4,316.5 613.3,315.8 615.1,315.1 617.0,314.4 618.9,313.7 620.8,313.1 622.6,312.4 624.5,311.8 626.4,311.2 628.3,310.6 630.3,310.1 632.2,309.5 634.1,309.0 636.0,308.5 638.0,308.1 639.9,307.6 641.9,307.2 643.8,306.8 645.8,306.4 647.8,306.1 649.8,305.7 651.8,305.4 653.8,305.2 655.8,304.9 657.8,304.7 659.8,304.5 661.8,304.4 663.9,304.2 665.9,304.1 667.9,304.1 669.9,304.1 671.9,304.2 673.9,304.3 675.9,304.4 677.9,304.7 679.8,305.0 681.7,305.4 683.6,305.8 685.4,306.4 687.2,307.0 688.9,307.7 690.6,308.5 692.3,309.4 693.9,310.5 695.4,311.6 696.9,312.8 698.3,314.1 699.7,315.5 701.0,317.0 702.2,318.6 703.4,320.2 704.5,321.9 705.6,323.6 706.5,325.4 707.5,327.3 708.3,329.2 709.1,331.1 709.8,333.0 710.4,335.0 711.0,336.9 711.5,338.9 711.9,340.9 712.2,342.9 712.5,344.8 712.7,346.8 712.9,348.8 713.0,350.8 713.0,352.8 713.0,354.7 712.9,356.7 712.8,358.7 712.6,360.7 712.4,362.7 712.2,364.7 711.9,366.7 711.6,368.6 711.2,370.6 710.8,372.6 710.4,374.6 710.0,376.6 709.6,378.6 709.1,380.6 708.6,382.6 708.1,384.6 707.6,386.5 707.1,388.5 706.5,390.5 706.0,392.5 705.4,394.5 704.8,396.4 704.2,398.4 703.6,400.3 703.0,402.3 702.3,404.2 701.6,406.2 700.9,408.1 700.2,410.0 699.5,411.9 698.7,413.7 697.9,415.6 697.1,417.5 696.3,419.3 695.5,421.1 694.6,422.9 693.7,424.7 692.8,426.4 691.8,428.2 690.9,429.9 689.9,431.6 688.8,433.3 687.8,434.9 686.7,436.6 685.6,438.2 684.5,439.8 683.3,441.4 682.1,442.9 681.0,444.5 679.7,446.0 678.5,447.5 677.2,449.0 676.0,450.5 674.7,451.9 673.3,453.4 672.0,454.8 670.7,456.2 669.3,457.6 667.9,459.0 666.5,460.4 665.1,461.7 663.6,463.0 662.2,464.4 660.7,465.7 659.2,467.0 657.7,468.3 656.2,469.5 654.6,470.8 653.1,472.0 651.5,473.3 650.0,474.5 648.4,475.7 646.8,476.9 645.2,478.1 643.6,479.3 641.9,480.5 640.3,481.6 638.6,482.8 637.0,483.9 635.3,485.1 633.7,486.2 632.0,487.3 630.3,488.4 628.6,489.5 626.9,490.6 625.2,491.7 623.5,492.8 621.8,493.9 620.1,495.0 618.3,496.0 616.6,497.1 614.9,498.2 613.1,499.2 611.4,500.3 609.7,501.3 607.9,502.3 606.2,503.4 604.5,504.4 602.7,505.5 601.0,506.5 599.2,507.5 597.5,508.5 595.7,509.5 594.0,510.5 592.3,511.6 590.5,512.6 588.8,513.6 587.0,514.5 585.3,515.5 583.5,516.5 581.7,517.5 580.0,518.5 578.2,519.4 576.5,520.4 574.7,521.4 573.0,522.3 571.2,523.3 569.4,524.2 567.7,525.1 565.9,526.0 564.1,527.0 562.3,527.9 560.6,528.8 558.8,529.7 557.0,530.6 555.2,531.5 553.4,532.3 551.6,533.2 549.9,534.1 548.1,534.9 546.3,535.8 544.5,536.6 542.7,537.5 540.9,538.3 539.1,539.1 537.3,539.9 535.4,540.7 533.6,541.5 531.8,542.3 530.0,543.0 528.2,543.8 526.4,544.6 524.5,545.3 522.7,546.0 520.9,546.8 519.0,547.5 517.2,548.2 515.3,548.9 513.5,549.6 511.6,550.2 509.8,550.9 507.9,551.6 506.1,552.2 504.2,552.8 502.3,553.5 500.4,554.1 498.6,554.7 496.7,555.3 494.8,555.8 492.9,556.4 491.0,557.0 489.1,557.5 487.2,558.0 485.3,558.6 483.4,559.1 481.5,559.6 479.6,560.0 477.6,560.5 475.7,561.0 473.8,561.4 471.8,561.8 469.9,562.3 468.0,562.7 466.0,563.1 464.0,563.4 462.1,563.8 460.1,564.2 458.1,564.5 456.1,564.8 454.1,565.2 452.1,565.5 450.1,565.7 448.1,566.0 446.1,566.3 444.0,566.5 442.0,566.8 440.0,567.0 437.9,567.2 435.8,567.4 433.8,567.6 431.7,567.8 429.6,567.9 427.5,568.0 425.4,568.2 423.3,568.3 421.2,568.4 419.0,568.4 416.9,568.5 414.8,568.5 412.7,568.4 410.6,568.4 408.6,568.3 406.5,568.1 404.5,567.9 402.5,567.7 400.5,567.4 398.5,567.0 396.6,566.6 394.7,566.2 392.8,565.6 391.0,565.0 389.2,564.4 387.5,563.6 385.8,562.8 384.1,561.9 382.5,561.0 381.0,559.9 379.5,558.8 378.1,557.5 376.8,556.2 375.5,554.8 374.3,553.3 373.1,551.8 372.1,550.2 371.1,548.5 370.2,546.8 369.5,545.0 368.8,543.2 368.2,541.3 367.7,539.4 367.4,537.5 367.2,535.5 367.0,533.5 367.1,531.5 367.2,529.5 367.4,527.5 367.8,525.5 368.2,523.4 368.8,521.4 369.4,519.4 370.1,517.5 371.0,515.5 371.9,513.6 372.9,511.8 374.0,510.0 375.1,508.2 376.3,506.5 377.6,504.9 379.0,503.4 380.4,501.9 381.9,500.5 383.4,499.2 385.0,498.0" stroke="#000" stroke-width="2.7" fill="none" stroke-linejoin="round" />
<path d="M454.8,366.0 456.2,364.6 457.7,363.2 459.2,361.8 460.6,360.5 462.2,359.2 463.7,357.9 465.3,356.6 466.8,355.4 468.4,354.2 470.0,353.0 471.6,351.8 473.2,350.6 474.9,349.4 476.5,348.3 478.1,347.1 479.8,346.0 481.4,344.8 483.1,343.7 484.8,342.6 486.4,341.4 488.1,340.3 489.7,339.2 491.4,338.0 493.0,336.9 494.6,335.7 496.2,334.6 497.9,333.4 499.5,332.2 501.0,331.0 502.6,329.8 504.2,328.6 505.7,327.3 507.2,326.0 508.7,324.7 510.2,323.4 511.7,322.1 513.1,320.8 514.6,319.4 516.0,318.0 517.4,316.6 518.8,315.3 520.3,313.9 521.7,312.5 523.1,311.1 524.5,309.7 525.9,308.3 527.4,306.9 528.8,305.5 530.3,304.1 531.8,302.8 533.2,301.4 534.7,300.1 536.3,298.8 537.8,297.5 539.4,296.2 541.0,295.0 542.6,293.7 544.2,292.5 545.8,291.3 547.4,290.1 549.1,288.9 550.7,287.7 552.4,286.5 554.0,285.4 555.7,284.2 557.4,283.1 559.0,281.9 560.7,280.8 562.4,279.7 564.0,278.5 565.7,277.4 567.4,276.3 569.1,275.2 570.7,274.1 572.4,273.0 574.1,271.9 575.8,270.8 577.4,269.7 579.1,268.7 580.8,267.6 582.5,266.5 584.1,265.5 585.8,264.4 587.5,263.4 589.2,262.3 590.9,261.3 592.6,260.2 594.3,259.2 596.0,258.2 597.6,257.2 599.3,256.2 601.0,255.1 602.7,254.1 604.4,253.1 606.2,252.1 607.9,251.2 609.6,250.2 611.3,249.2 613.0,248.2 614.7,247.2 616.4,246.3 618.2,245.3 619.9,244.3 621.6,243.4 623.4,242.4 625.1,241.5 626.9,240.5 628.6,239.6 630.4,238.7 632.1,237.7 633.9,236.8 635.6,235.9 637.4,235.0 639.2,234.0 641.0,233.1 642.7,232.2 644.5,231.3 646.3,230.4 648.1,229.5 649.9,228.6 651.7,227.7 653.5,226.8 655.4,225.9 657.2,225.1 659.0,224.2 660.8,223.3 662.7,222.4 664.5,221.6 666.4,220.7 668.2,219.9 670.1,219.0 672.0,218.2 673.8,217.4 675.7,216.6 677.6,215.8 679.5,215.0 681.4,214.3 683.3,213.5 685.2,212.8 687.1,212.1 689.0,211.4 690.9,210.8 692.8,210.1 694.7,209.5 696.6,209.0 698.5,208.4 700.5,207.9 702.4,207.4 704.3,207.0 706.3,206.5 708.2,206.2 710.1,205.8 712.1,205.5 714.0,205.2 716.0,205.0 717.9,204.8 719.9,204.7 721.8,204.5 723.8,204.5 725.7,204.5 727.7,204.5 729.6,204.6 731.6,204.7 733.6,204.9 735.5,205.2 737.5,205.5 739.4,205.8 741.4,206.2 743.4,206.7 745.3,207.2 747.3,207.8 749.2,208.4 751.1,209.1 753.1,209.9 755.0,210.7 756.8,211.5 758.7,212.5 760.5,213.4 762.2,214.4 764.0,215.5 765.7,216.6 767.3,217.8 768.9,219.0 770.4,220.3 771.9,221.6 773.3,223.0 774.7,224.4 776.0,225.9 777.2,227.4 778.3,228.9 779.4,230.5 780.5,232.1 781.4,233.8 782.3,235.5 783.2,237.3 784.0,239.0 784.7,240.8 785.4,242.7 786.0,244.5 786.6,246.4 787.2,248.3 787.7,250.3 788.1,252.2 788.5,254.2 788.9,256.2 789.2,258.2 789.5,260.2 789.8,262.2 790.0,264.3 790.1,266.3 790.3,268.4 790.4,270.4 790.5,272.5 790.6,274.5 790.6,276.6 790.6,278.6 790.6,280.7 790.6,282.7 790.6,284.8 790.5,286.8 790.4,288.8 790.3,290.9 790.2,292.9 790.0,294.9 789.8,296.9 789.6,298.9 789.4,300.9 789.2,302.9 789.0,304.9 788.7,306.9 788.4,308.9 788.1,310.9 787.8,312.8 787.5,314.8 787.1,316.8 786.8,318.7 786.4,320.7 786.0,322.7 785.6,324.6 785.1,326.6 784.7,328.5 784.2,330.4 783.8,332.4 783.3,334.3 782.8,336.2 782.3,338.1 781.7,340.1 781.2,342.0 780.6,343.9 780.1,345.8 779.5,347.7 778.9,349.6 778.3,351.5 777.7,353.4 777.0,355.3 776.4,357.1 775.8,359.0 775.1,360.9 774.4,362.8 773.7,364.6 773.1,366.5 772.4,368.4 771.6,370.2 770.9,372.1 770.2,373.9 769.4,375.8 768.7,377.6 767.9,379.5 767.1,381.3 766.3,383.1 765.5,384.9 764.7,386.7 763.9,388.6 763.1,390.4 762.2,392.2 761.4,393.9 760.5,395.7 759.6,397.5 758.7,399.3 757.8,401.1 756.8,402.8 755.9,404.6 754.9,406.3 754.0,408.0 753.0,409.8 752.0,411.5 751.0,413.2 750.0,414.9 748.9,416.6 747.9,418.3 746.8,420.0 745.7,421.7 744.6,423.3 743.5,425.0 742.4,426.7 741.3,428.3 740.1,429.9 738.9,431.6 737.8,433.2 736.6,434.8 735.3,436.4 734.1,438.0 732.9,439.5 731.6,441.1 730.3,442.7 729.0,444.2 727.7,445.7 726.4,447.3 725.1,448.8 723.7,450.3 722.4,451.8 721.0,453.3 719.6,454.7 718.2,456.2 716.8,457.7 715.4,459.1 714.0,460.5 712.6,462.0 711.1,463.4 709.7,464.8 708.2,466.2 706.7,467.5 705.2,468.9 703.7,470.3 702.2,471.6 700.7,472.9 699.2,474.3 697.7,475.6 696.1,476.9 694.6,478.2 693.0,479.4 691.5,480.7 689.9,481.9 688.3,483.2 686.8,484.4 685.2,485.6 683.6,486.8 682.0,488.0 680.4,489.2 678.8,490.4 677.2,491.5 675.6,492.7 674.0,493.8 672.3,494.9 670.7,496.0 669.1,497.1 667.4,498.2 665.8,499.3 664.2,500.4 662.5,501.5 660.8,502.5 659.2,503.6 657.5,504.6 655.8,505.6 654.2,506.7 652.5,507.7 650.8,508.7 649.1,509.7 647.4,510.7 645.7,511.7 644.0,512.7 642.3,513.7 640.5,514.7 638.8,515.6 637.1,516.6 635.3,517.6 633.6,518.6 631.8,519.5 630.0,520.5 628.3,521.5 626.5,522.4 624.7,523.4 622.9,524.4 621.1,525.3 619.3,526.3 617.5,527.2 615.7,528.2 613.9,529.1 612.1,530.0 610.3,530.9 608.5,531.9 606.7,532.8 604.9,533.6 603.1,534.5 601.2,535.4 599.4,536.3 597.6,537.1 595.8,538.0 594.0,538.8 592.1,539.7 590.3,540.5 588.5,541.3 586.6,542.1 584.8,542.9 583.0,543.7 581.1,544.5 579.3,545.3 577.4,546.1 575.6,546.8 573.8,547.6 571.9,548.3 570.1,549.1 568.2,549.8 566.4,550.5 564.5,551.3 562.6,552.0 560.8,552.7 558.9,553.4 557.1,554.1 555.2,554.8 553.3,555.5 551.5,556.1 549.6,556.8 547.7,557.5 545.9,558.1 544.0,558.8 542.1,559.4 540.2,560.0 538.3,560.7 536.5,561.3 534.6,561.9 532.7,562.5 530.8,563.1 528.9,563.7 527.0,564.3 525.1,564.9 523.2,565.5 521.3,566.1 519.4,566.7 517.5,567.2 515.6,567.8 513.7,568.4 511.8,568.9 509.9,569.5 508.0,570.0 506.1,570.5 504.2,571.1 502.2,571.6 500.3,572.1 498.4,572.7 496.5,573.2 494.5,573.7 492.6,574.2 490.7,574.7 488.8,575.2 486.8,575.7 484.9,576.2 482.9,576.6 481.0,577.1 479.1,577.6 477.1,578.1 475.2,578.5 473.2,579.0 471.3,579.5 469.3,579.9 467.4,580.4 465.4,580.8 463.4,581.3 461.5,581.7 459.5,582.2 457.5,582.6 455.6,583.0 453.6,583.5 451.6,583.9 449.7,584.3 447.7,584.7 445.7,585.2 443.7,585.6 441.7,586.0 439.7,586.4 437.8,586.8 435.8,587.2 433.8,587.6 431.8,588.0 429.8,588.4 427.8,588.8 425.8,589.1 423.8,589.5 421.8,589.9 419.8,590.2 417.8,590.5 415.8,590.8 413.8,591.1 411.8,591.4 409.8,591.7 407.8,591.9 405.8,592.2 403.8,592.4 401.8,592.6 399.8,592.8 397.8,592.9 395.8,593.1 393.8,593.2 391.8,593.3 389.8,593.4 387.8,593.4 385.8,593.4 383.8,593.4 381.8,593.4 379.8,593.3 377.8,593.2 375.8,593.1 373.9,592.9 371.9,592.8 369.9,592.5 367.9,592.3 366.0,592.0 364.0,591.7 362.0,591.3 360.1,590.9 358.1,590.5 356.2,590.0 354.2,589.5 352.3,589.0 350.3,588.4 348.4,587.7 346.5,587.1 344.6,586.3 342.7,585.6 340.8,584.8 339.0,583.9 337.2,583.0 335.4,582.0 333.7,581.0 332.1,579.9 330.5,578.7 329.0,577.5 327.5,576.3 326.2,574.9 324.9,573.5 323.7,572.1 322.6,570.6 321.6,569.0 320.7,567.3 319.9,565.6 319.2,563.8 318.6,561.9 318.1,560.1 317.7,558.2 317.4,556.2 317.2,554.3 317.1,552.3 317.1,550.3 317.1,548.4 317.3,546.4 317.5,544.4 317.8,542.4 318.2,540.4 318.7,538.5 319.2,536.5 319.8,534.6 320.5,532.6 321.2,530.7 322.0,528.7 322.8,526.8 323.7,524.9 324.6,523.0 325.6,521.2 326.7,519.3 327.7,517.5 328.8,515.7 330.0,513.9 331.2,512.1 332.4,510.4 333.6,508.7 334.8,507.0 336.1,505.3 337.4,503.7 338.7,502.1 340.0,500.6 341.3,499.0 342.7,497.5 344.0,496.1 345.3,494.6 346.7,493.2 348.0,491.7 349.4,490.3 350.7,488.9 352.1,487.5 353.4,486.1 354.7,484.7 356.1,483.3 357.4,481.9 358.7,480.4 360.0,479.0 361.3,477.5 362.6,476.0 363.9,474.6 365.2,473.1 366.4,471.6 367.7,470.0 369.0,468.5 370.2,467.0 371.5,465.5 372.7,463.9 373.9,462.4 375.2,460.8 376.4,459.2 377.6,457.7 378.8,456.1 380.1,454.5 381.3,452.9 382.5,451.3 383.7,449.7 384.9,448.1 386.2,446.5 387.4,444.9 388.6,443.3 389.8,441.7 391.0,440.1 392.2,438.5 393.4,436.9 394.7,435.3 395.9,433.7 397.1,432.1 398.3,430.5 399.5,428.9 400.8,427.4 402.0,425.8 403.3,424.2 404.5,422.6 405.7,421.0 407.0,419.5 408.3,417.9 409.5,416.4 410.8,414.8 412.1,413.3 413.4,411.7 414.7,410.2 416.0,408.7 417.3,407.2 418.6,405.7 419.9,404.2 421.2,402.8 422.6,401.3 423.9,399.8 425.3,398.4" stroke="#000" stroke-width="2.7" fill="none" stroke-linejoin="round" />
<path d="M645,592.6H713.2" stroke="#000" stroke-width="2.7" fill="none" stroke-linejoin="round" />
<path d="M433.8,119.5 435.7,119.2 437.6,118.8 439.6,118.5 441.5,118.1 443.4,117.8 445.3,117.4 447.3,117.1 449.2,116.8 451.1,116.4 453.1,116.1 455.0,115.7 457.0,115.3 458.9,115.0 460.8,114.6 462.8,114.3 464.7,113.9 466.7,113.6 468.6,113.2 470.6,112.9 472.5,112.5 474.5,112.1 476.4,111.8 478.4,111.4 480.4,111.1 482.3,110.7 484.3,110.3 486.3,110.0 488.2,109.6 490.2,109.3 492.2,108.9 494.1,108.6 496.1,108.2 498.1,107.8 500.0,107.5 502.0,107.1 504.0,106.8 506.0,106.4 508.0,106.1 509.9,105.7 511.9,105.4 513.9,105.0 515.9,104.7 517.9,104.3 519.9,104.0 521.8,103.6 523.8,103.3 525.8,103.0 527.8,102.6 529.8,102.3 531.8,102.0 533.8,101.6 535.8,101.3 537.8,101.0 539.8,100.6 541.8,100.3 543.8,100.0 545.8,99.7 547.8,99.4 549.8,99.1 551.8,98.7 553.8,98.4 555.8,98.1 557.8,97.8 559.8,97.5 561.8,97.2 563.8,97.0 565.8,96.7 567.8,96.4 569.8,96.1 571.8,95.8 573.8,95.5 575.8,95.3 577.8,95.0 579.8,94.8 581.9,94.5 583.9,94.2 585.9,94.0 587.9,93.7 589.9,93.5 591.9,93.3 593.9,93.0 595.9,92.8 597.9,92.6 600.0,92.4 602.0,92.1 604.0,91.9 606.0,91.7 608.0,91.5 610.0,91.3 612.0,91.1 614.0,91.0 616.1,90.8 618.1,90.6 620.1,90.4 622.1,90.3 624.1,90.1 626.1,90.0 628.1,89.8 630.1,89.7 632.1,89.5 634.2,89.4 636.2,89.3 638.2,89.2 640.2,89.1 642.2,89.0 644.2,88.9 646.2,88.8 648.2,88.7 650.2,88.6 652.3,88.5 654.3,88.5 656.3,88.4 658.3,88.4 660.3,88.3 662.3,88.3 664.3,88.2 666.3,88.2 668.3,88.2 670.3,88.2 672.3,88.2 674.3,88.2 676.3,88.2 678.3,88.2 680.3,88.3 682.3,88.3 684.3,88.4 686.3,88.4 688.3,88.5 690.3,88.5 692.3,88.6 694.3,88.7 696.3,88.8 698.3,88.9 700.3,89.0 702.3,89.1 704.3,89.3 706.2,89.4 708.2,89.6 710.2,89.7 712.2,89.9 714.2,90.1 716.2,90.2 718.1,90.4 720.1,90.6 722.1,90.8 724.1,91.1 726.1,91.3 728.0,91.5 730.0,91.8 732.0,92.0 733.9,92.3 735.9,92.6 737.9,92.9 739.8,93.2 741.8,93.5 743.7,93.8 745.7,94.1 747.6,94.5 749.6,94.8 751.5,95.2 753.5,95.5 755.4,95.9 757.3,96.3 759.3,96.7 761.2,97.1 763.1,97.5 765.1,98.0 767.0,98.4 768.9,98.9 770.8,99.3 772.7,99.8 774.7,100.3 776.6,100.8 778.5,101.3 780.4,101.8 782.3,102.4 784.2,102.9 786.1,103.5 788.0,104.0 789.8,104.6 791.7,105.2 793.6,105.8 795.5,106.4 797.3,107.1 799.2,107.7 801.1,108.4 802.9,109.0 804.8,109.7 806.7,110.4 808.5,111.1 810.3,111.8 812.2,112.5 814.0,113.3 815.9,114.0 817.7,114.8 819.5,115.6 821.3,116.4 823.1,117.2 824.9,118.0 826.8,118.8 828.6,119.6 830.4,120.5 832.1,121.4 833.9,122.3 835.7,123.1 837.5,124.1 839.3,125.0 841.0,125.9 842.8,126.9 844.6,127.8 846.3,128.8 848.1,129.8 849.8,130.8 851.5,131.8 853.3,132.9 855.0,133.9 856.7,135.0 858.4,136.1 860.1,137.1 861.8,138.3 863.5,139.4 865.2,140.5 866.9,141.7 868.6,142.8 870.3,144.0 872.0,145.2 873.6,146.4 875.3,147.6 876.9,148.9 878.6,150.1 880.2,151.4 881.9,152.7 883.5,154.0 885.1,155.3" stroke="#000" stroke-width="3.5" fill="none" stroke-linejoin="round" />
<path d="M305.6,306.2 307.5,305.7 309.4,305.3 311.4,304.9 313.3,304.4 315.2,304.0 317.1,303.5 319.1,303.1 321.0,302.7 322.9,302.2 324.9,301.8 326.8,301.4 328.7,301.0 330.7,300.6 332.6,300.1 334.5,299.7 336.5,299.3 338.4,298.9 340.4,298.5 342.3,298.1 344.3,297.7 346.2,297.3 348.2,296.9 350.1,296.5 352.1,296.1 354.1,295.8 356.0,295.4 358.0,295.0 359.9,294.6 361.9,294.3 363.9,293.9 365.8,293.5 367.8,293.2 369.8,292.8 371.7,292.5 373.7,292.1 375.7,291.8 377.7,291.4 379.6,291.1 381.6,290.7 383.6,290.4 385.6,290.1 387.6,289.8 389.5,289.4 391.5,289.1 393.5,288.8 395.5,288.5 397.5,288.2 399.5,287.9 401.5,287.6 403.4,287.3 405.4,287.0 407.4,286.7 409.4,286.4 411.4,286.2 413.4,285.9 415.4,285.6 417.4,285.4 419.4,285.1 421.4,284.8 423.4,284.6 425.4,284.3 427.4,284.1 429.4,283.9 431.4,283.6 433.4,283.4 435.4,283.2 437.4,282.9 439.4,282.7 441.4,282.5 443.4,282.3 445.4,282.1 447.4,281.9 449.4,281.7 451.4,281.5 453.4,281.3 455.5,281.2 457.5,281.0 459.5,280.8 461.5,280.7 463.5,280.5 465.5,280.4 467.5,280.2 469.5,280.1 471.5,279.9 473.5,279.8 475.5,279.7 477.6,279.5 479.6,279.4 481.6,279.3 483.6,279.2 485.6,279.1 487.6,279.0 489.6,278.9 491.6,278.8 493.7,278.8 495.7,278.7 497.7,278.6 499.7,278.6 501.7,278.5 503.7,278.4 505.7,278.4 507.7,278.4 509.8,278.3 511.8,278.3 513.8,278.3 515.8,278.3 517.8,278.3 519.8,278.2 521.8,278.3 523.8,278.3 525.8,278.3 527.8,278.3 529.9,278.3 531.9,278.4 533.9,278.4 535.9,278.4 537.9,278.5 539.9,278.5 541.9,278.6 543.9,278.7 545.9,278.8 547.9,278.8 549.9,278.9 551.9,279.0 553.9,279.1 555.9,279.2 557.9,279.4 559.9,279.5 561.9,279.6 563.9,279.7 565.9,279.9 567.9,280.0 569.9,280.2 571.9,280.4 573.9,280.5 575.9,280.7 577.9,280.9 579.9,281.1 581.9,281.3 583.9,281.5 585.9,281.7 587.9,281.9 589.9,282.1 591.9,282.4 593.8,282.6 595.8,282.9 597.8,283.1 599.8,283.4 601.8,283.6 603.8,283.9 605.7,284.2 607.7,284.5 609.7,284.8 611.7,285.1 613.7,285.4 615.6,285.7 617.6,286.1 619.6,286.4 621.6,286.8 623.5,287.1 625.5,287.5 627.5,287.8 629.4,288.2 631.4,288.6 633.3,289.0 635.3,289.4 637.3,289.8 639.2,290.2 641.2,290.6 643.1,291.1 645.1,291.5 647.0,292.0 649.0,292.4 650.9,292.9 652.9,293.4 654.8,293.9 656.8,294.3 658.7,294.8 660.7,295.3 662.6,295.9 664.5,296.4 666.5,296.9 668.4,297.5 670.3,298.0 672.3,298.6 674.2,299.1 676.1,299.7 678.0,300.3 680.0,300.9 681.9,301.5 683.8,302.1 685.7,302.7 687.6,303.3 689.5,304.0 691.5,304.6 693.4,305.3 695.3,306.0 697.2,306.6 699.1,307.3 700.9,308.0 702.8,308.7 704.7,309.4 706.6,310.1 708.5,310.8 710.4,311.6 712.2,312.3 714.1,313.1 716.0,313.8 717.8,314.6 719.7,315.4 721.5,316.2 723.4,317.0 725.2,317.8 727.1,318.6 728.9,319.5 730.7,320.3 732.6,321.1 734.4,322.0 736.2,322.9 738.0,323.7 739.8,324.6 741.6,325.5 743.4,326.4 745.2,327.3 747.0,328.3 748.7,329.2 750.5,330.1 752.3,331.1 754.0,332.1 755.8,333.0 757.5,334.0 759.2,335.0 761.0,336.0 762.7,337.0 764.4,338.0 766.1,339.1 767.8,340.1 769.5,341.2 771.2,342.2 772.9,343.3 774.6,344.4 776.2,345.5 777.9,346.6 779.5,347.7 781.2,348.8 782.8,349.9 784.4,351.1 786.0,352.2 787.6,353.4 789.2,354.6 790.8,355.7 792.4,356.9 794.0,358.1 795.6,359.3 797.1,360.6 798.7,361.8 800.2,363.1 801.7,364.3 803.2,365.6 804.7,366.8 806.2,368.1 807.7,369.4 809.2,370.7 810.7,372.1 812.1,373.4 813.6,374.7 815.0,376.1 816.4,377.4 817.9,378.8 819.3,380.2 820.7,381.6 822.0,383.0 823.4,384.4 824.8,385.8 826.1,387.3 827.5,388.7 828.8,390.2 830.1,391.6 831.4,393.1 832.7,394.6 834.0,396.1 835.3,397.6 836.5,399.1 837.8,400.7 839.0,402.2 840.2,403.8 841.4,405.3 842.6,406.9 843.8,408.5 845.0,410.1 846.1,411.7 847.3,413.4 848.4,415.0 849.5,416.6 850.6,418.3 851.7,420.0 852.8,421.6 853.8,423.3 854.9,425.0 855.9,426.8 856.9,428.5 857.9,430.2 858.9,432.0 859.9,433.7 860.9,435.5 861.8,437.3 862.8,439.1 863.7,440.9 864.6,442.7 865.5,444.5 866.3,446.4 867.2,448.2 868.0,450.1 868.9,452.0 869.7,453.9 870.5,455.8 871.3,457.7 872.0,459.6 872.8,461.6 873.5,463.5" stroke="#000" stroke-width="3.5" fill="none" stroke-linejoin="round" />
<path d="M272.0,447.2 273.9,446.8 275.9,446.4 277.8,446.0 279.7,445.6 281.7,445.2 283.6,444.9 285.6,444.5 287.5,444.1 289.5,443.8 291.4,443.4 293.4,443.1 295.3,442.7 297.3,442.4 299.2,442.1 301.2,441.7 303.2,441.4 305.1,441.1 307.1,440.8 309.1,440.5 311.0,440.2 313.0,439.9 315.0,439.6 316.9,439.3 318.9,439.1 320.9,438.8 322.8,438.5 324.8,438.3 326.8,438.0 328.8,437.7 330.8,437.5 332.7,437.3 334.7,437.0 336.7,436.8 338.7,436.6 340.7,436.3 342.7,436.1 344.6,435.9 346.6,435.7 348.6,435.5 350.6,435.3 352.6,435.2 354.6,435.0 356.6,434.8 358.6,434.6 360.6,434.5 362.6,434.3 364.6,434.2 366.6,434.0 368.6,433.9 370.6,433.7 372.6,433.6 374.6,433.5 376.6,433.4 378.6,433.2 380.6,433.1 382.6,433.0 384.6,432.9 386.6,432.8 388.6,432.8 390.6,432.7 392.6,432.6 394.6,432.5 396.6,432.5 398.6,432.4 400.6,432.4 402.6,432.3 404.7,432.3 406.7,432.2 408.7,432.2 410.7,432.2 412.7,432.2 414.7,432.2 416.7,432.2 418.7,432.2 420.7,432.2 422.7,432.2 424.7,432.2 426.8,432.2 428.8,432.2 430.8,432.3 432.8,432.3 434.8,432.4 436.8,432.4 438.8,432.5 440.8,432.5 442.8,432.6 444.8,432.7 446.9,432.8 448.9,432.8 450.9,432.9 452.9,433.0 454.9,433.1 456.9,433.2 458.9,433.4 460.9,433.5 462.9,433.6 464.9,433.7 466.9,433.9 468.9,434.0 470.9,434.2 473.0,434.3 475.0,434.5 477.0,434.7 479.0,434.8 481.0,435.0 483.0,435.2 485.0,435.4 487.0,435.6 489.0,435.8 491.0,436.0 493.0,436.2 495.0,436.5 497.0,436.7 499.0,436.9 501.0,437.2 502.9,437.4 504.9,437.7 506.9,437.9 508.9,438.2 510.9,438.5 512.9,438.7 514.9,439.0 516.9,439.3 518.9,439.6 520.9,439.9 522.8,440.2 524.8,440.5 526.8,440.9 528.8,441.2 530.8,441.5 532.7,441.9 534.7,442.2 536.7,442.6 538.7,442.9 540.6,443.3 542.6,443.7 544.6,444.0 546.6,444.4 548.5,444.8 550.5,445.2 552.5,445.6 554.4,446.0 556.4,446.4 558.3,446.8 560.3,447.3 562.3,447.7 564.2,448.1 566.2,448.6 568.1,449.0 570.1,449.5 572.0,450.0 574.0,450.4 575.9,450.9 577.8,451.4 579.8,451.9 581.7,452.4 583.7,452.9 585.6,453.4 587.5,453.9 589.5,454.4 591.4,454.9 593.3,455.5 595.2,456.0 597.2,456.6 599.1,457.1 601.0,457.7 602.9,458.2 604.8,458.8 606.8,459.4 608.7,460.0 610.6,460.6 612.5,461.2 614.4,461.8 616.3,462.4 618.2,463.0 620.1,463.6 622.0,464.3 623.9,464.9 625.7,465.6 627.6,466.2 629.5,466.9 631.4,467.6 633.3,468.2 635.1,468.9 637.0,469.6 638.9,470.3 640.7,471.0 642.6,471.7 644.5,472.4 646.3,473.2 648.2,473.9 650.0,474.6 651.9,475.4 653.7,476.1 655.6,476.9 657.4,477.6 659.2,478.4 661.1,479.2 662.9,480.0 664.7,480.8 666.5,481.6 668.3,482.4 670.2,483.2 672.0,484.0 673.8,484.9 675.6,485.7 677.4,486.6 679.2,487.4 681.0,488.3 682.8,489.2 684.5,490.0 686.3,490.9 688.1,491.8 689.9,492.7 691.6,493.6 693.4,494.5 695.2,495.5 696.9,496.4 698.7,497.3 700.4,498.3 702.2,499.2 703.9,500.2 705.6,501.2 707.4,502.1 709.1,503.1 710.8,504.1 712.6,505.1 714.3,506.1 716.0,507.1 717.7,508.2 719.4,509.2 721.1,510.2 722.8,511.3 724.5,512.3 726.2,513.4 727.8,514.5 729.5,515.6 731.2,516.7 732.9,517.8 734.5,518.9 736.2,520.0 737.8,521.1 739.5,522.2 741.1,523.4 742.7,524.5 744.4,525.7 746.0,526.8 747.6,528.0 749.2,529.2 750.9,530.4 752.5,531.6 754.1,532.8 755.7,534.0 757.3,535.2 758.8,536.4 760.4,537.7 762.0,538.9 763.6,540.2 765.1,541.4 766.7,542.7 768.2,544.0 769.8,545.3 771.3,546.6 772.9,547.9 774.4,549.2" stroke="#000" stroke-width="3.5" fill="none" stroke-linejoin="round" />
<path d="M195.9,551.8 197.9,551.5 199.9,551.2 201.8,550.9 203.8,550.6 205.8,550.3 207.8,550.0 209.8,549.7 211.8,549.5 213.7,549.2 215.7,548.9 217.7,548.7 219.7,548.4 221.7,548.2 223.7,547.9 225.7,547.7 227.7,547.5 229.6,547.3 231.6,547.0 233.6,546.8 235.6,546.6 237.6,546.4 239.6,546.2 241.6,546.0 243.6,545.8 245.6,545.7 247.6,545.5 249.6,545.3 251.6,545.1 253.6,545.0 255.6,544.8 257.6,544.7 259.6,544.5 261.6,544.4 263.6,544.3 265.6,544.1 267.6,544.0 269.6,543.9 271.6,543.8 273.6,543.7 275.6,543.6 277.6,543.5 279.6,543.4 281.6,543.3 283.6,543.2 285.6,543.1 287.6,543.1 289.6,543.0 291.6,542.9 293.6,542.9 295.6,542.8 297.6,542.8 299.6,542.7 301.6,542.7 303.6,542.7 305.6,542.6 307.6,542.6 309.7,542.6 311.7,542.6 313.7,542.6 315.7,542.6 317.7,542.6 319.7,542.6 321.7,542.6 323.7,542.6 325.7,542.7 327.7,542.7 329.7,542.7 331.7,542.8 333.7,542.8 335.7,542.9 337.7,542.9 339.7,543.0 341.7,543.0 343.8,543.1 345.8,543.2 347.8,543.3 349.8,543.3 351.8,543.4 353.8,543.5 355.8,543.6 357.8,543.7 359.8,543.8 361.8,544.0 363.8,544.1 365.8,544.2 367.8,544.3 369.8,544.5 371.8,544.6 373.8,544.8 375.8,544.9 377.8,545.1 379.8,545.2 381.8,545.4 383.8,545.6 385.8,545.7 387.8,545.9 389.8,546.1 391.8,546.3 393.8,546.5 395.8,546.7 397.8,546.9 399.8,547.1 401.8,547.3 403.8,547.5 405.8,547.7 407.8,548.0 409.8,548.2 411.8,548.4 413.8,548.7 415.8,548.9 417.8,549.2 419.8,549.4 421.8,549.7 423.8,550.0 425.8,550.2 427.7,550.5 429.7,550.8 431.7,551.1 433.7,551.4 435.7,551.7 437.7,552.0 439.7,552.3 441.7,552.6 443.6,552.9 445.6,553.2 447.6,553.5 449.6,553.9 451.6,554.2 453.6,554.5 455.5,554.9 457.5,555.2 459.5,555.6 461.5,555.9 463.4,556.3 465.4,556.6 467.4,557.0 469.4,557.4 471.3,557.8 473.3,558.2 475.3,558.5 477.3,558.9 479.2,559.3 481.2,559.7 483.2,560.1 485.1,560.6 487.1,561.0 489.1,561.4 491.0,561.8 493.0,562.2 494.9,562.7 496.9,563.1 498.9,563.6 500.8,564.0 502.8,564.5 504.7,564.9 506.7,565.4 508.6,565.9 510.6,566.3 512.5,566.8 514.5,567.3 516.4,567.8 518.4,568.3 520.3,568.7 522.3,569.2 524.2,569.7 526.2,570.3 528.1,570.8 530.0,571.3 532.0,571.8 533.9,572.3 535.9,572.9 537.8,573.4 539.7,573.9 541.7,574.5 543.6,575.0 545.5,575.6 547.4,576.1 549.4,576.7 551.3,577.3 553.2,577.8 555.1,578.4 557.1,579.0 559.0,579.6 560.9,580.1 562.8,580.7 564.7,581.3 566.6,581.9 568.5,582.5 570.5,583.1 572.4,583.8 574.3,584.4 576.2,585.0 578.1,585.6 580.0,586.3 581.9,586.9 583.8,587.5 585.7,588.2 587.6,588.8 589.5,589.5 591.3,590.1 593.2,590.8 595.1,591.5 597.0,592.1 598.9,592.8 600.8,593.5 602.7,594.2 604.5,594.9 606.4,595.5 608.3,596.2 610.2,596.9 612.0,597.6 613.9,598.3 615.8,599.1 617.6,599.8 619.5,600.5" stroke="#000" stroke-width="3.5" fill="none" stroke-linejoin="round" />
<path d="M153.1,619.4 155.1,619.1 157.1,618.9 159.1,618.6 161.1,618.4 163.1,618.1 165.1,617.9 167.1,617.7 169.1,617.5 171.1,617.3 173.1,617.1 175.1,616.9 177.1,616.7 179.1,616.5 181.1,616.4 183.1,616.2 185.1,616.1 187.1,615.9 189.1,615.8 191.1,615.6 193.1,615.5 195.1,615.4 197.2,615.3 199.2,615.2 201.2,615.1 203.2,615.0 205.2,614.9 207.2,614.8 209.2,614.8 211.2,614.7 213.2,614.6 215.2,614.6 217.2,614.5 219.2,614.5 221.2,614.5 223.2,614.4 225.2,614.4 227.3,614.4 229.3,614.4 231.3,614.4 233.3,614.4 235.3,614.4 237.3,614.4 239.3,614.5 241.3,614.5 243.3,614.5 245.3,614.6 247.3,614.6 249.4,614.7 251.4,614.7 253.4,614.8 255.4,614.8 257.4,614.9 259.4,615.0 261.4,615.1 263.4,615.2 265.4,615.2 267.4,615.3 269.4,615.4 271.5,615.6 273.5,615.7 275.5,615.8 277.5,615.9 279.5,616.0 281.5,616.2 283.5,616.3 285.5,616.4 287.5,616.6 289.5,616.7 291.5,616.9 293.5,617.1 295.5,617.2 297.6,617.4 299.6,617.6 301.6,617.7 303.6,617.9 305.6,618.1 307.6,618.3 309.6,618.5 311.6,618.7 313.6,618.9 315.6,619.1 317.6,619.3 319.6,619.5 321.6,619.7 323.6,619.9 325.6,620.2 327.6,620.4 329.6,620.6 331.6,620.8 333.6,621.1 335.6,621.3 337.6,621.6 339.6,621.8 341.6,622.1 343.6,622.3 345.6,622.6 347.6,622.8 349.6,623.1 351.6,623.4 353.6,623.6 355.6,623.9 357.6,624.2 359.6,624.4 361.6,624.7 363.6,625.0 365.6,625.3 367.6,625.6 369.6,625.9 371.6,626.1 373.6,626.4 375.6,626.7 377.6,627.0 379.6,627.3 381.6,627.6 383.6,627.9 385.6,628.3 387.5,628.6 389.5,628.9 391.5,629.2 393.5,629.5 395.5,629.8 397.5,630.1 399.5,630.4 401.5,630.8 403.4,631.1 405.4,631.4 407.4,631.7 409.4,632.1 411.4,632.4 413.4,632.7 415.3,633.1 417.3,633.4 419.3,633.7 421.3,634.1 423.3,634.4 425.2,634.7 427.2,635.1 429.2,635.4 431.2,635.7 433.1,636.1 435.1,636.4 437.1,636.8 439.1,637.1 441.0,637.5 443.0,637.8" stroke="#000" stroke-width="3.5" fill="none" stroke-linejoin="round" />
<path d="M121.9,668.5L126.5,660.5Q127.5,659 129.5,658.9L128.0,659.0 130.0,658.9 132.0,658.9 134.0,658.8 136.0,658.8 138.0,658.7 140.0,658.7 142.0,658.7 144.0,658.6 146.0,658.6 148.0,658.5 150.0,658.5 152.0,658.5 154.0,658.5 156.0,658.4 158.0,658.4 160.0,658.4 162.0,658.4 164.0,658.4 166.0,658.3 168.0,658.3 170.0,658.3 172.0,658.3 174.0,658.3 176.0,658.3 178.0,658.3 180.0,658.3 182.0,658.3 184.0,658.3 186.0,658.3 188.0,658.3 190.0,658.3 192.0,658.3 194.0,658.3 196.0,658.3 198.0,658.3 200.0,658.3 202.0,658.3 204.0,658.3 206.0,658.3 208.0,658.3 210.0,658.3 212.0,658.3 214.0,658.3 216.0,658.3 218.0,658.3 220.0,658.3 222.0,658.3 224.0,658.3 226.0,658.3 228.0,658.3 230.0,658.2 232.0,658.2 234.0,658.2 236.0,658.2 238.0,658.2 240.0,658.2 242.0,658.2 244.0,658.2 246.0,658.2 248.0,658.2 250.0,658.1 252.0,658.1 254.0,658.1 256.0,658.1 258.0,658.1 260.0,658.0 262.0,658.0 264.0,658.0 266.0,657.9 268.0,657.9 270.0,657.9 272.0,657.8 274.0,657.8 276.0,657.8 278.0,657.7 280.0,657.7 282.0,657.6 284.0,657.6 286.0,657.5 288.0,657.5 290.0,657.4 292.0,657.3 294.0,657.3 296.0,657.2 298.0,657.2 300.0,657.1 302.0,657.0 304.0,657.0 306.0,656.9 308.0,656.8 310.0,656.7 312.0,656.7 314.0,656.6 316.0,656.5 318.0,656.4 320.0,656.3 322.0,656.2 324.0,656.1 326.0,656.0 328.0,655.9 330.0,655.8 332.0,655.7 334.0,655.6 336.0,655.5 338.0,655.4 340.0,655.3 342.0,655.2 344.0,655.1 346.0,654.9 348.0,654.8 350.0,654.7 352.0,654.6 354.0,654.4 356.0,654.3" stroke="#000" stroke-width="2.9" fill="none" stroke-linejoin="round" />
<path d="M885.1,155.3C887.1,159.1 893.1,170.8 897.4,178.1C901.7,185.4 908.5,195.8 910.7,199.3M910.7,199.3L930.8,224.5M930.8,224.5C932.1,229.6 936.3,246.6 938.4,255.0C940.5,263.4 942.5,271.7 943.3,275.0M943.3,275.0L954.1,298.6M954.1,298.6C954.4,301.9 955.3,309.5 956.0,318.1C956.7,326.8 957.9,345.1 958.3,350.5" stroke="#000" stroke-width="3.5" fill="none" stroke-linejoin="round" />
<path d="M433.8,119.5L451.6,93.5" stroke="#000" stroke-width="3.5" fill="none" stroke-linejoin="round" stroke-dasharray="11 8" stroke-dashoffset="0"/>
<path d="M433.8,119.5L304.8,305.5" stroke="#000" stroke-width="3.5" fill="none" stroke-linejoin="round" stroke-dasharray="11 8" stroke-dashoffset="6"/>
<path d="M304.8,305.5C303.6,310.2 300.2,321.8 297.5,334.0C294.8,346.2 291.5,364.8 288.6,378.8C285.7,392.8 282.9,406.6 280.0,418.0C277.1,429.4 272.8,442.2 271.3,447.0" stroke="#000" stroke-width="3.5" fill="none" stroke-linejoin="round" stroke-dasharray="11 8" stroke-dashoffset="6"/>
<path d="M271.3,447.0L195.9,551.8" stroke="#000" stroke-width="3.5" fill="none" stroke-linejoin="round" stroke-dasharray="11 8" stroke-dashoffset="6"/>
<path d="M195.9,551.8L153.1,619.4" stroke="#000" stroke-width="3.5" fill="none" stroke-linejoin="round" stroke-dasharray="11 8" stroke-dashoffset="6"/>
<path d="M153.1,619.4L121.9,668.5" stroke="#000" stroke-width="3.5" fill="none" stroke-linejoin="round" stroke-dasharray="11 8" stroke-dashoffset="6"/>
<path d="M774.4,549.2 772.5,549.9 770.6,550.6 768.8,551.3 766.9,552.1 765.0,552.8 763.1,553.5 761.3,554.2 759.4,554.9 757.5,555.6 755.6,556.3 753.7,557.0 751.9,557.7 750.0,558.3 748.1,559.0 746.2,559.7 744.3,560.4 742.4,561.1 740.5,561.8 738.7,562.4 736.8,563.1 734.9,563.8 733.0,564.4 731.1,565.1 729.2,565.8 727.3,566.4 725.4,567.1 723.5,567.8 721.6,568.4 719.7,569.1 717.9,569.7 716.0,570.4 714.1,571.0 712.2,571.6 710.3,572.3 708.4,572.9 706.5,573.6 704.6,574.2 702.7,574.8 700.8,575.5 698.9,576.1 697.0,576.7 695.1,577.3 693.2,578.0 691.3,578.6 689.3,579.2 687.4,579.8 685.5,580.4 683.6,581.0 681.7,581.6 679.8,582.2 677.9,582.8 676.0,583.4 674.1,584.0 672.2,584.6 670.3,585.2 668.3,585.8 666.4,586.4 664.5,587.0 662.6,587.6 660.7,588.1 658.8,588.7 656.9,589.3 654.9,589.9 653.0,590.5 651.1,591.0 649.2,591.6 647.3,592.2 645.4,592.7 643.4,593.3 641.5,593.8 639.6,594.4 637.7,594.9 635.7,595.5 633.8,596.1 631.9,596.6 630.0,597.1 628.1,597.7 626.1,598.2 624.2,598.8 622.3,599.3 620.3,599.8 618.4,600.4 616.5,600.9 614.6,601.4 612.6,602.0 610.7,602.5 608.8,603.0 606.8,603.5 604.9,604.0 603.0,604.5 601.0,605.1 599.1,605.6 597.2,606.1 595.2,606.6 593.3,607.1 591.4,607.6 589.4,608.1 587.5,608.6 585.5,609.1 583.6,609.6 581.7,610.1 579.7,610.5 577.8,611.0 575.8,611.5 573.9,612.0 572.0,612.5 570.0,612.9 568.1,613.4 566.1,613.9 564.2,614.4 562.2,614.8 560.3,615.3 558.4,615.8 556.4,616.2 554.5,616.7 552.5,617.1 550.6,617.6 548.6,618.0 546.7,618.5 544.7,618.9 542.8,619.4 540.8,619.8 538.9,620.3 536.9,620.7 535.0,621.1 533.0,621.6 531.1,622.0 529.1,622.4 527.1,622.9 525.2,623.3 523.2,623.7 521.3,624.1 519.3,624.6 517.4,625.0 515.4,625.4 513.5,625.8 511.5,626.2 509.5,626.6 507.6,627.0 505.6,627.4 503.7,627.9 501.7,628.3 499.7,628.7 497.8,629.1 495.8,629.5 493.8,629.9 491.9,630.2 489.9,630.6 488.0,631.0 486.0,631.4 484.0,631.8 482.1,632.2 480.1,632.6 478.1,633.0 476.2,633.3 474.2,633.7 472.2,634.1 470.3,634.5 468.3,634.9 466.3,635.2 464.4,635.6 462.4,636.0 460.4,636.4 458.5,636.7 456.5,637.1 454.5,637.5 452.6,637.8 450.6,638.2 448.6,638.6 446.7,638.9 444.7,639.3 442.7,639.7 440.7,640.0 438.8,640.4 436.8,640.7 434.8,641.1 432.9,641.5 430.9,641.8 428.9,642.2 426.9,642.5 425.0,642.9 423.0,643.2 421.0,643.6 419.1,644.0 417.1,644.3 415.1,644.7 413.1,645.0 411.2,645.4 409.2,645.7 407.2,646.1 405.3,646.4 403.3,646.8 401.3,647.1 399.3,647.5 397.4,647.9 395.4,648.2 393.4,648.6 391.5,648.9 389.5,649.3 387.5,649.6 385.5,650.0 383.6,650.3 381.6,650.7 379.6,651.0 377.6,651.4 375.7,651.7 373.7,652.1 371.7,652.4 369.8,652.8 367.8,653.1 365.8,653.5 363.8,653.9 361.9,654.2 359.9,654.6 357.9,654.9 356.0,655.3 354.0,655.6 352.0,656.0 350.1,656.4 348.1,656.7 346.1,657.1 344.1,657.4 342.2,657.8 340.2,658.2 338.2,658.5 336.3,658.9 334.3,659.3 332.3,659.6 330.4,660.0 328.4,660.4 326.4,660.7 324.5,661.1 322.5,661.5 320.5,661.8 318.6,662.2 316.6,662.6 314.6,663.0 312.7,663.3 310.7,663.7 308.7,664.1 306.8,664.5 304.8,664.9 302.8,665.2 300.9,665.6 298.9,666.0 297.0,666.4 295.0,666.8" stroke="#000" stroke-width="3.5" fill="none" stroke-linejoin="round" stroke-dasharray="12 6.5 2.5 6.5"/>
<path d="M975.0,327.8 L873.5,464.0" stroke="#000" stroke-width="3.5" fill="none" stroke-linejoin="round" stroke-dasharray="12 6.5 2.5 6.5"/>
<path d="M873.5,464.0 L774.4,549.2" stroke="#000" stroke-width="3.5" fill="none" stroke-linejoin="round" stroke-dasharray="12 6.5 2.5 6.5"/>
<path d="M840.3,491.8 L849.6,484.6 L844.6,480.6Z M644.8,593.6 L656,588.4 L656,594.2Z M151.5,619.8 L156.6,611.2 L160,618.2Z" fill="#000"/>
<circle cx="544" cy="445" r="6" fill="#000"/>
<rect x="118.3" y="31.5" width="862.0" height="637.5" fill="none" stroke="#000" stroke-width="2.6"/>
<rect x="356.7" y="101.3" width="68.6" height="30" fill="#fff"/>
<text x="391.0" y="126.3" text-anchor="middle" style="font-family:'Liberation Serif','Times New Roman',serif;stroke:#000;stroke-width:0.25px;font-size:32px">120k</text>
<rect x="232.1" y="291.3" width="69.0" height="30" fill="#fff"/>
<text x="266.6" y="316.3" text-anchor="middle" style="font-family:'Liberation Serif','Times New Roman',serif;stroke:#000;stroke-width:0.25px;font-size:32px">100k</text>
<rect x="210.6" y="427.6" width="54.9" height="30" fill="#fff"/>
<text x="238.1" y="452.6" text-anchor="middle" style="font-family:'Liberation Serif','Times New Roman',serif;stroke:#000;stroke-width:0.25px;font-size:32px">80k</text>
<rect x="136.5" y="531.3" width="54.9" height="30" fill="#fff"/>
<text x="163.9" y="556.3" text-anchor="middle" style="font-family:'Liberation Serif','Times New Roman',serif;stroke:#000;stroke-width:0.25px;font-size:32px">60k</text>
<rect x="91.1" y="602.6" width="55.4" height="30" fill="#fff"/>
<text x="118.8" y="627.6" text-anchor="middle" style="font-family:'Liberation Serif','Times New Roman',serif;stroke:#000;stroke-width:0.25px;font-size:32px">40k</text>
<g transform="translate(404.9,254.0) rotate(-51.7)"><rect x="-20.0" y="-12.0" width="40" height="24" fill="#fff"/><text x="0" y="10.1" text-anchor="middle" style="font-family:'Liberation Sans',Arial,sans-serif;stroke:#000;stroke-width:0.35px;font-size:28px">55</text></g>
<g transform="translate(413.0,324.5) rotate(-49.3)"><rect x="-20.0" y="-12.0" width="40" height="24" fill="#fff"/><text x="0" y="10.1" text-anchor="middle" style="font-family:'Liberation Sans',Arial,sans-serif;stroke:#000;stroke-width:0.35px;font-size:28px">60</text></g>
<g transform="translate(438.5,384.3) rotate(-48.4)"><rect x="-20.0" y="-12.0" width="40" height="24" fill="#fff"/><text x="0" y="10.1" text-anchor="middle" style="font-family:'Liberation Sans',Arial,sans-serif;stroke:#000;stroke-width:0.35px;font-size:28px">65</text></g>
<g transform="translate(397.5,482.7) rotate(-47.4)"><rect x="-20.0" y="-12.0" width="40" height="24" fill="#fff"/><text x="0" y="10.1" text-anchor="middle" style="font-family:'Liberation Sans',Arial,sans-serif;stroke:#000;stroke-width:0.35px;font-size:28px">68</text></g>
<g transform="translate(519.5,520.5) rotate(-24.0)"><rect x="-20.0" y="-12.0" width="40" height="24" fill="#fff"/><text x="0" y="10.1" text-anchor="middle" style="font-family:'Liberation Sans',Arial,sans-serif;stroke:#000;stroke-width:0.35px;font-size:28px">70</text></g>
<g transform="translate(657.5,543.5) rotate(-23.4)"><rect x="-20.0" y="-12.0" width="40" height="24" fill="#fff"/><text x="0" y="10.1" text-anchor="middle" style="font-family:'Liberation Sans',Arial,sans-serif;stroke:#000;stroke-width:0.35px;font-size:28px">60</text></g>
<g transform="translate(823.5,456.5) rotate(-54.7)"><rect x="-20.0" y="-12.0" width="40" height="24" fill="#fff"/><text x="0" y="10.1" text-anchor="middle" style="font-family:'Liberation Sans',Arial,sans-serif;stroke:#000;stroke-width:0.35px;font-size:28px">55</text></g>
<g transform="translate(732.5,595.8) rotate(0.0)"><rect x="-20.0" y="-11.0" width="40" height="22" fill="#fff"/><text x="0" y="10.1" text-anchor="middle" style="font-family:'Liberation Sans',Arial,sans-serif;stroke:#000;stroke-width:0.35px;font-size:28px">50</text></g>
<g transform="translate(505.7,649.9) rotate(0.0)"><rect x="-20.0" y="-11.0" width="40" height="22" fill="#fff"/><text x="0" y="10.1" text-anchor="middle" style="font-family:'Liberation Sans',Arial,sans-serif;stroke:#000;stroke-width:0.35px;font-size:28px">40</text></g>
<text x="570.2" y="442" text-anchor="middle" style="font-family:'Liberation Sans',Arial,sans-serif;stroke:#000;stroke-width:0.35px;font-size:28px">72</text>
<text x="111.3" y="677.4" text-anchor="end" style="font-family:'Liberation Serif','Times New Roman',serif;stroke:#000;stroke-width:0.25px;font-size:40px">1.0</text>
<text x="111.3" y="555.0" text-anchor="end" style="font-family:'Liberation Serif','Times New Roman',serif;stroke:#000;stroke-width:0.25px;font-size:40px">1.4</text>
<text x="111.3" y="427.5" text-anchor="end" style="font-family:'Liberation Serif','Times New Roman',serif;stroke:#000;stroke-width:0.25px;font-size:40px">1.8</text>
<text x="111.3" y="300.0" text-anchor="end" style="font-family:'Liberation Serif','Times New Roman',serif;stroke:#000;stroke-width:0.25px;font-size:40px">2.2</text>
<text x="111.3" y="172.5" text-anchor="end" style="font-family:'Liberation Serif','Times New Roman',serif;stroke:#000;stroke-width:0.25px;font-size:40px">2.6</text>
<text x="111.3" y="45.0" text-anchor="end" style="font-family:'Liberation Serif','Times New Roman',serif;stroke:#000;stroke-width:0.25px;font-size:40px">3.0</text>
<text x="125.3" y="705.5" text-anchor="middle" style="font-family:'Liberation Serif','Times New Roman',serif;stroke:#000;stroke-width:0.25px;font-size:40px">0</text>
<text x="226.1" y="705.5" text-anchor="middle" style="font-family:'Liberation Serif','Times New Roman',serif;stroke:#000;stroke-width:0.25px;font-size:40px">40</text>
<text x="333.8" y="705.5" text-anchor="middle" style="font-family:'Liberation Serif','Times New Roman',serif;stroke:#000;stroke-width:0.25px;font-size:40px">80</text>
<text x="441.6" y="705.5" text-anchor="middle" style="font-family:'Liberation Serif','Times New Roman',serif;stroke:#000;stroke-width:0.25px;font-size:40px">120</text>
<text x="549.3" y="705.5" text-anchor="middle" style="font-family:'Liberation Serif','Times New Roman',serif;stroke:#000;stroke-width:0.25px;font-size:40px">160</text>
<text x="657.0" y="705.5" text-anchor="middle" style="font-family:'Liberation Serif','Times New Roman',serif;stroke:#000;stroke-width:0.25px;font-size:40px">200</text>
<text x="764.8" y="705.5" text-anchor="middle" style="font-family:'Liberation Serif','Times New Roman',serif;stroke:#000;stroke-width:0.25px;font-size:40px">240</text>
<text x="872.5" y="705.5" text-anchor="middle" style="font-family:'Liberation Serif','Times New Roman',serif;stroke:#000;stroke-width:0.25px;font-size:40px">280</text>
<text x="980.3" y="705.5" text-anchor="middle" style="font-family:'Liberation Serif','Times New Roman',serif;stroke:#000;stroke-width:0.25px;font-size:40px">320</text>
<text x="554.6" y="750.6" text-anchor="middle" style="font-family:'Liberation Serif','Times New Roman',serif;stroke:#000;stroke-width:0.25px;font-size:39.5px">Mass flow (g/s)</text>
<text transform="translate(45.5,350.6) rotate(-90)" x="0" y="0" text-anchor="middle" style="font-family:'Liberation Serif','Times New Roman',serif;stroke:#000;stroke-width:0.25px;font-size:43px">Pressure ratio</text>
</svg>
</body></html>
